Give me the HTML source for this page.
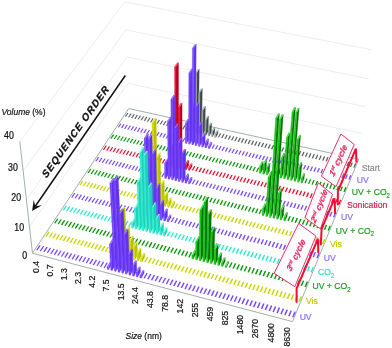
<!DOCTYPE html>
<html><head><meta charset="utf-8"><style>
html,body{margin:0;padding:0;background:#fff;width:392px;height:348px;overflow:hidden}
body{position:relative;font-family:"Liberation Sans",sans-serif}
</style></head><body>
<svg width="392" height="348" viewBox="0 0 392 348" style="position:absolute;left:0;top:0;will-change:transform">
<rect width="392" height="348" fill="#fff"/>
<path d="M29.5,226.94L127.87,83.24M26.4,199.6L126.92,57.04M23.18,171.12L125.94,29.91M19.82,141.43L124.92,1.79M127.87,83.24L361.89,133.43M126.92,57.04L365.25,106.62M125.94,29.91L368.73,78.78M124.92,1.79L372.34,49.88" stroke="#e3ebe9" stroke-width="0.8" fill="none"/>
<path d="M19.82,141.43L32.47,253.22L292.56,321.63L358.66,159.28L128.79,108.54L32.47,253.22" stroke="#97a6a4" stroke-width="0.9" fill="none" stroke-linejoin="round"/>
<g shape-rendering="auto"><polygon points="124.86,116.53 126.06,116.79 128.59,112.96 127.41,112.7" fill="#5a6464"/><polygon points="128,117.22 129.19,117.49 131.72,113.65 130.53,113.39" fill="#5a6464"/><polygon points="131.14,117.92 132.33,118.19 134.85,114.35 133.66,114.08" fill="#5a6464"/><polygon points="134.28,118.63 135.48,118.89 137.99,115.04 136.79,114.78" fill="#5a6464"/><polygon points="137.43,119.33 138.63,119.59 141.13,115.74 139.93,115.48" fill="#5a6464"/><polygon points="140.59,120.03 141.79,120.3 144.27,116.44 143.08,116.17" fill="#5a6464"/><polygon points="143.75,120.74 144.95,121 147.42,117.14 146.23,116.87" fill="#5a6464"/><polygon points="146.91,121.44 148.11,121.71 150.58,117.84 149.38,117.57" fill="#5a6464"/><polygon points="150.08,122.15 151.28,122.42 153.74,118.54 152.54,118.27" fill="#5a6464"/><polygon points="153.25,122.85 154.46,123.12 156.91,119.24 155.7,118.97" fill="#5a6464"/><polygon points="156.43,123.56 157.64,123.83 160.08,119.94 158.87,119.68" fill="#5a6464"/><polygon points="159.62,124.27 160.83,124.54 163.25,120.65 162.04,120.38" fill="#5a6464"/><polygon points="162.81,124.98 164.02,125.25 166.43,121.35 165.22,121.09" fill="#5a6464"/><polygon points="166,125.7 167.22,125.97 169.62,122.06 168.41,121.79" fill="#5a6464"/><polygon points="169.2,126.41 170.42,126.68 172.81,122.77 171.59,122.5" fill="#5a6464"/><polygon points="172.4,127.12 173.62,127.4 176,123.48 174.79,123.21" fill="#5a6464"/><polygon points="175.61,127.84 176.83,128.11 179.2,124.19 177.99,123.92" fill="#5a6464"/><polygon points="178.83,128.56 180.05,128.83 182.41,124.9 181.19,124.63" fill="#5a6464"/><polygon points="182.05,129.27 183.27,129.55 185.62,125.61 184.4,125.34" fill="#5a6464"/><polygon points="185.27,129.99 186.5,130.27 188.83,126.32 187.61,126.05" fill="#5a6464"/><polygon points="188.5,130.71 189.73,130.99 192.06,127.04 190.83,126.77" fill="#5a6464"/><polygon points="192.96,132.34 195.28,128.38 195.51,102.86 193.16,106.78" fill="#3e4848" stroke="#3e4848" stroke-width="0.3"/><polygon points="191.73,132.06 192.96,132.34 193.16,106.78 191.91,106.51" fill="#98a2a2" stroke="#98a2a2" stroke-width="0.3"/><polygon points="191.91,106.51 193.16,106.78 195.51,102.86 194.26,102.59" fill="#b0b8b8"/><polygon points="196.2,133.06 198.5,129.1 199.2,69.01 196.8,72.88" fill="#3e4848" stroke="#3e4848" stroke-width="0.3"/><polygon points="194.97,132.78 196.2,133.06 196.8,72.88 195.52,72.61" fill="#98a2a2" stroke="#98a2a2" stroke-width="0.3"/><polygon points="195.52,72.61 196.8,72.88 199.2,69.01 197.92,68.74" fill="#b0b8b8"/><polygon points="199.45,133.78 201.74,129.82 202.31,88.52 199.95,92.43" fill="#3e4848" stroke="#3e4848" stroke-width="0.3"/><polygon points="198.21,133.51 199.45,133.78 199.95,92.43 198.68,92.16" fill="#98a2a2" stroke="#98a2a2" stroke-width="0.3"/><polygon points="198.68,92.16 199.95,92.43 202.31,88.52 201.04,88.25" fill="#b0b8b8"/><polygon points="202.7,134.51 204.98,130.54 205.37,106.29 203.05,110.23" fill="#3e4848" stroke="#3e4848" stroke-width="0.3"/><polygon points="201.46,134.23 202.7,134.51 203.05,110.23 201.79,109.96" fill="#98a2a2" stroke="#98a2a2" stroke-width="0.3"/><polygon points="201.79,109.96 203.05,110.23 205.37,106.29 204.11,106.02" fill="#b0b8b8"/><polygon points="205.95,135.23 208.22,131.26 208.5,116.03 206.21,119.99" fill="#3e4848" stroke="#3e4848" stroke-width="0.3"/><polygon points="204.72,134.96 205.95,135.23 206.21,119.99 204.96,119.72" fill="#98a2a2" stroke="#98a2a2" stroke-width="0.3"/><polygon points="204.96,119.72 206.21,119.99 208.5,116.03 207.26,115.76" fill="#b0b8b8"/><polygon points="209.22,135.96 211.47,131.98 211.66,122.88 209.39,126.85" fill="#3e4848" stroke="#3e4848" stroke-width="0.3"/><polygon points="207.98,135.69 209.22,135.96 209.39,126.85 208.14,126.58" fill="#98a2a2" stroke="#98a2a2" stroke-width="0.3"/><polygon points="208.14,126.58 209.39,126.85 211.66,122.88 210.42,122.61" fill="#b0b8b8"/><polygon points="212.48,136.69 214.73,132.7 214.84,127.66 212.59,131.64" fill="#3e4848" stroke="#3e4848" stroke-width="0.3"/><polygon points="211.24,136.41 212.48,136.69 212.59,131.64 211.34,131.37" fill="#98a2a2" stroke="#98a2a2" stroke-width="0.3"/><polygon points="211.34,131.37 212.59,131.64 214.84,127.66 213.6,127.38" fill="#b0b8b8"/><polygon points="215.75,137.42 217.99,133.42 218.06,130.4 215.83,134.4" fill="#3e4848" stroke="#3e4848" stroke-width="0.3"/><polygon points="214.51,137.14 215.75,137.42 215.83,134.4 214.58,134.12" fill="#98a2a2" stroke="#98a2a2" stroke-width="0.3"/><polygon points="214.58,134.12 215.83,134.4 218.06,130.4 216.82,130.13" fill="#b0b8b8"/><polygon points="217.8,137.24 219.05,137.52 221.27,133.52 220.03,133.25" fill="#5a6464"/><polygon points="221.08,137.98 222.33,138.25 224.54,134.25 223.3,133.97" fill="#5a6464"/><polygon points="224.37,138.71 225.62,138.99 227.82,134.97 226.58,134.7" fill="#5a6464"/><polygon points="227.66,139.44 228.91,139.72 231.1,135.7 229.86,135.42" fill="#5a6464"/><polygon points="230.96,140.18 232.21,140.46 234.39,136.43 233.14,136.15" fill="#5a6464"/><polygon points="234.26,140.91 235.52,141.19 237.68,137.16 236.43,136.88" fill="#5a6464"/><polygon points="237.57,141.65 238.83,141.93 240.98,137.89 239.73,137.62" fill="#5a6464"/><polygon points="240.88,142.39 242.14,142.67 244.29,138.63 243.03,138.35" fill="#5a6464"/><polygon points="244.2,143.13 245.46,143.41 247.6,139.36 246.34,139.08" fill="#5a6464"/><polygon points="247.52,143.87 248.79,144.15 250.91,140.1 249.65,139.82" fill="#5a6464"/><polygon points="250.85,144.61 252.12,144.9 254.23,140.83 252.97,140.55" fill="#5a6464"/><polygon points="254.19,145.36 255.46,145.64 257.55,141.57 256.29,141.29" fill="#5a6464"/><polygon points="257.53,146.1 258.8,146.38 260.88,142.31 259.62,142.03" fill="#5a6464"/><polygon points="260.87,146.85 262.15,147.13 264.22,143.05 262.95,142.77" fill="#5a6464"/><polygon points="264.22,147.59 265.5,147.88 267.56,143.79 266.29,143.51" fill="#5a6464"/><polygon points="267.58,148.34 268.86,148.63 270.91,144.53 269.63,144.25" fill="#5a6464"/><polygon points="270.94,149.09 272.22,149.38 274.26,145.28 272.98,144.99" fill="#5a6464"/><polygon points="274.31,149.84 275.59,150.13 277.62,146.02 276.34,145.74" fill="#5a6464"/><polygon points="277.68,150.59 278.96,150.88 280.98,146.77 279.7,146.48" fill="#5a6464"/><polygon points="281.06,151.35 282.34,151.63 284.35,147.51 283.07,147.23" fill="#5a6464"/><polygon points="284.44,152.1 285.73,152.39 287.72,148.26 286.44,147.98" fill="#5a6464"/><polygon points="287.83,152.86 289.12,153.14 291.1,149.01 289.81,148.73" fill="#5a6464"/><polygon points="291.23,153.61 292.52,153.9 294.48,149.76 293.2,149.48" fill="#5a6464"/><polygon points="294.63,154.37 295.92,154.66 297.87,150.51 296.58,150.23" fill="#5a6464"/><polygon points="298.03,155.13 299.33,155.42 301.27,151.27 299.98,150.98" fill="#5a6464"/><polygon points="301.44,155.89 302.74,156.18 304.67,152.02 303.38,151.73" fill="#5a6464"/><polygon points="304.86,156.65 306.16,156.94 308.07,152.78 306.78,152.49" fill="#5a6464"/><polygon points="308.28,157.42 309.58,157.71 311.49,153.53 310.19,153.25" fill="#5a6464"/><polygon points="311.71,158.18 313.01,158.47 314.9,154.29 313.6,154" fill="#5a6464"/><polygon points="315.14,158.95 316.45,159.24 318.33,155.05 317.03,154.76" fill="#5a6464"/><polygon points="318.58,159.71 319.89,160 321.76,155.81 320.45,155.52" fill="#5a6464"/><polygon points="322.03,160.48 323.34,160.77 325.19,156.57 323.88,156.28" fill="#5a6464"/><polygon points="325.48,161.25 326.79,161.54 328.63,157.34 327.32,157.05" fill="#5a6464"/><polygon points="328.93,162.02 330.25,162.31 332.07,158.1 330.76,157.81" fill="#5a6464"/><polygon points="332.39,162.79 333.71,163.09 335.53,158.87 334.21,158.58" fill="#5a6464"/><polygon points="335.86,163.56 337.18,163.86 338.98,159.63 337.67,159.34" fill="#5a6464"/><polygon points="339.33,164.34 340.66,164.63 342.44,160.4 341.13,160.11" fill="#5a6464"/><polygon points="342.81,165.11 344.14,165.41 345.91,161.17 344.59,160.88" fill="#5a6464"/><polygon points="346.3,165.89 347.62,166.19 349.39,161.94 348.07,161.65" fill="#5a6464"/><polygon points="349.79,166.67 351.12,166.97 352.87,162.71 351.54,162.42" fill="#5a6464"/><polygon points="353.28,167.45 354.61,167.75 356.35,163.49 355.03,163.19" fill="#5a6464"/><polygon points="117.69,127.32 118.9,127.59 121.49,123.68 120.29,123.41" fill="#7a4cfa"/><polygon points="120.86,128.03 122.06,128.31 124.65,124.39 123.45,124.12" fill="#7a4cfa"/><polygon points="124.03,128.75 125.23,129.02 127.81,125.1 126.61,124.83" fill="#7a4cfa"/><polygon points="127.2,129.47 128.41,129.74 130.97,125.81 129.77,125.54" fill="#7a4cfa"/><polygon points="130.38,130.19 131.59,130.46 134.14,126.52 132.94,126.25" fill="#7a4cfa"/><polygon points="133.56,130.91 134.77,131.18 137.32,127.23 136.11,126.96" fill="#7a4cfa"/><polygon points="136.75,131.63 137.96,131.9 140.5,127.95 139.29,127.68" fill="#7a4cfa"/><polygon points="139.95,132.35 141.16,132.62 143.68,128.67 142.47,128.39" fill="#7a4cfa"/><polygon points="143.14,133.07 144.36,133.35 146.87,129.38 145.66,129.11" fill="#7a4cfa"/><polygon points="146.35,133.8 147.57,134.07 150.07,130.1 148.85,129.83" fill="#7a4cfa"/><polygon points="149.56,134.52 150.78,134.8 153.27,130.82 152.05,130.55" fill="#7a4cfa"/><polygon points="152.77,135.25 153.99,135.52 156.47,131.54 155.25,131.27" fill="#7a4cfa"/><polygon points="155.99,135.98 157.22,136.25 159.68,132.26 158.46,131.99" fill="#7a4cfa"/><polygon points="159.21,136.7 160.44,136.98 162.9,132.99 161.67,132.71" fill="#7a4cfa"/><polygon points="162.44,137.43 163.67,137.71 166.12,133.71 164.89,133.44" fill="#7a4cfa"/><polygon points="165.68,138.17 166.91,138.44 169.34,134.44 168.12,134.16" fill="#7a4cfa"/><polygon points="168.92,138.9 170.15,139.18 172.57,135.16 171.35,134.89" fill="#7a4cfa"/><polygon points="172.16,139.63 173.4,139.91 175.81,135.89 174.58,135.62" fill="#7a4cfa"/><polygon points="175.41,140.37 176.65,140.65 179.05,136.62 177.82,136.34" fill="#7a4cfa"/><polygon points="178.67,141.1 179.91,141.38 182.3,137.35 181.06,137.07" fill="#7a4cfa"/><polygon points="181.93,141.84 183.17,142.12 185.55,138.08 184.31,137.8" fill="#7a4cfa"/><polygon points="186.44,143.49 188.8,139.44 188.9,119.03 186.5,123.04" fill="#6232ee" stroke="#6232ee" stroke-width="0.3"/><polygon points="185.19,143.21 186.44,143.49 186.5,123.04 185.24,122.77" fill="#7444ff" stroke="#7444ff" stroke-width="0.3"/><polygon points="185.24,122.77 186.5,123.04 188.9,119.03 187.65,118.75" fill="#9070ff"/><polygon points="189.71,144.23 192.06,140.18 192.57,68.84 190.1,72.78" fill="#6232ee" stroke="#6232ee" stroke-width="0.3"/><polygon points="188.46,143.95 189.71,144.23 190.1,72.78 188.79,72.51" fill="#7444ff" stroke="#7444ff" stroke-width="0.3"/><polygon points="188.79,72.51 190.1,72.78 192.57,68.84 191.27,68.57" fill="#9070ff"/><polygon points="192.99,144.97 195.33,140.91 196.24,44.15 193.74,48.06" fill="#6232ee" stroke="#6232ee" stroke-width="0.3"/><polygon points="191.74,144.69 192.99,144.97 193.74,48.06 192.41,47.8" fill="#7444ff" stroke="#7444ff" stroke-width="0.3"/><polygon points="192.41,47.8 193.74,48.06 196.24,44.15 194.91,43.89" fill="#9070ff"/><polygon points="196.27,145.71 198.6,141.65 199.05,102.85 196.66,106.86" fill="#6232ee" stroke="#6232ee" stroke-width="0.3"/><polygon points="195.02,145.43 196.27,145.71 196.66,106.86 195.38,106.58" fill="#7444ff" stroke="#7444ff" stroke-width="0.3"/><polygon points="195.38,106.58 196.66,106.86 199.05,102.85 197.78,102.57" fill="#9070ff"/><polygon points="199.56,146.45 201.88,142.39 202.16,121.95 199.81,125.99" fill="#6232ee" stroke="#6232ee" stroke-width="0.3"/><polygon points="198.31,146.17 199.56,146.45 199.81,125.99 198.54,125.71" fill="#7444ff" stroke="#7444ff" stroke-width="0.3"/><polygon points="198.54,125.71 199.81,125.99 202.16,121.95 200.9,121.67" fill="#9070ff"/><polygon points="202.85,147.2 205.16,143.12 205.32,132.97 203,137.04" fill="#6232ee" stroke="#6232ee" stroke-width="0.3"/><polygon points="201.6,146.92 202.85,147.2 203,137.04 201.74,136.75" fill="#7444ff" stroke="#7444ff" stroke-width="0.3"/><polygon points="201.74,136.75 203,137.04 205.32,132.97 204.07,132.69" fill="#9070ff"/><polygon points="206.15,147.95 208.44,143.86 208.54,138.81 206.23,142.88" fill="#6232ee" stroke="#6232ee" stroke-width="0.3"/><polygon points="204.89,147.66 206.15,147.95 206.23,142.88 204.97,142.6" fill="#7444ff" stroke="#7444ff" stroke-width="0.3"/><polygon points="204.97,142.6 206.23,142.88 208.54,138.81 207.28,138.52" fill="#9070ff"/><polygon points="209.45,148.69 211.74,144.61 211.79,142.08 209.5,146.16" fill="#6232ee" stroke="#6232ee" stroke-width="0.3"/><polygon points="208.19,148.41 209.45,148.69 209.5,146.16 208.24,145.88" fill="#7444ff" stroke="#7444ff" stroke-width="0.3"/><polygon points="208.24,145.88 209.5,146.16 211.79,142.08 210.53,141.8" fill="#9070ff"/><polygon points="211.51,148.53 212.77,148.81 215.05,144.72 213.79,144.43" fill="#7a4cfa"/><polygon points="214.83,149.27 216.09,149.56 218.35,145.46 217.1,145.18" fill="#7a4cfa"/><polygon points="218.15,150.02 219.41,150.31 221.66,146.2 220.4,145.92" fill="#7a4cfa"/><polygon points="221.47,150.78 222.73,151.06 224.98,146.95 223.71,146.67" fill="#7a4cfa"/><polygon points="224.8,151.53 226.07,151.81 228.3,147.7 227.03,147.41" fill="#7a4cfa"/><polygon points="228.14,152.28 229.4,152.57 231.62,148.44 230.36,148.16" fill="#7a4cfa"/><polygon points="231.48,153.04 232.75,153.32 234.95,149.19 233.68,148.91" fill="#7a4cfa"/><polygon points="234.82,153.79 236.09,154.08 238.29,149.94 237.02,149.66" fill="#7a4cfa"/><polygon points="238.17,154.55 239.45,154.84 241.63,150.7 240.36,150.41" fill="#7a4cfa"/><polygon points="241.53,155.31 242.81,155.6 244.98,151.45 243.7,151.16" fill="#7a4cfa"/><polygon points="244.89,156.07 246.17,156.36 248.33,152.2 247.05,151.92" fill="#7a4cfa"/><polygon points="248.26,156.83 249.54,157.12 251.69,152.96 250.41,152.67" fill="#7a4cfa"/><polygon points="251.63,157.59 252.92,157.88 255.05,153.71 253.77,153.43" fill="#7a4cfa"/><polygon points="255.01,158.36 256.3,158.65 258.42,154.47 257.14,154.18" fill="#7a4cfa"/><polygon points="258.4,159.12 259.68,159.41 261.79,155.23 260.51,154.94" fill="#7a4cfa"/><polygon points="261.79,159.89 263.08,160.18 265.17,155.99 263.89,155.7" fill="#7a4cfa"/><polygon points="265.18,160.66 266.47,160.95 268.56,156.75 267.27,156.46" fill="#7a4cfa"/><polygon points="268.58,161.42 269.88,161.72 271.95,157.51 270.66,157.22" fill="#7a4cfa"/><polygon points="271.99,162.19 273.28,162.49 275.34,158.28 274.05,157.99" fill="#7a4cfa"/><polygon points="275.4,162.97 276.7,163.26 278.75,159.04 277.45,158.75" fill="#7a4cfa"/><polygon points="278.82,163.74 280.12,164.03 282.15,159.81 280.86,159.52" fill="#7a4cfa"/><polygon points="282.24,164.51 283.54,164.81 285.57,160.58 284.27,160.29" fill="#7a4cfa"/><polygon points="285.67,165.29 286.98,165.58 288.99,161.35 287.69,161.05" fill="#7a4cfa"/><polygon points="289.11,166.06 290.41,166.36 292.41,162.12 291.11,161.82" fill="#7a4cfa"/><polygon points="292.55,166.84 293.85,167.14 295.84,162.89 294.54,162.59" fill="#7a4cfa"/><polygon points="295.99,167.62 297.3,167.92 299.27,163.66 297.97,163.37" fill="#7a4cfa"/><polygon points="299.44,168.4 300.76,168.7 302.72,164.43 301.41,164.14" fill="#7a4cfa"/><polygon points="302.9,169.18 304.22,169.48 306.16,165.21 304.85,164.91" fill="#7a4cfa"/><polygon points="306.36,169.96 307.68,170.26 309.61,165.99 308.3,165.69" fill="#7a4cfa"/><polygon points="309.83,170.75 311.15,171.05 313.07,166.76 311.76,166.47" fill="#7a4cfa"/><polygon points="313.31,171.53 314.63,171.83 316.54,167.54 315.22,167.25" fill="#7a4cfa"/><polygon points="316.79,172.32 318.11,172.62 320.01,168.32 318.69,168.03" fill="#7a4cfa"/><polygon points="320.27,173.11 321.6,173.41 323.48,169.1 322.16,168.81" fill="#7a4cfa"/><polygon points="323.76,173.9 325.09,174.2 326.96,169.89 325.64,169.59" fill="#7a4cfa"/><polygon points="327.26,174.69 328.59,174.99 330.45,170.67 329.12,170.37" fill="#7a4cfa"/><polygon points="330.77,175.48 332.1,175.78 333.94,171.46 332.61,171.16" fill="#7a4cfa"/><polygon points="334.27,176.27 335.61,176.57 337.44,172.24 336.11,171.94" fill="#7a4cfa"/><polygon points="337.79,177.07 339.13,177.37 340.94,173.03 339.61,172.73" fill="#7a4cfa"/><polygon points="341.31,177.86 342.65,178.17 344.45,173.82 343.12,173.52" fill="#7a4cfa"/><polygon points="344.84,178.66 346.18,178.96 347.97,174.61 346.63,174.31" fill="#7a4cfa"/><polygon points="348.37,179.46 349.71,179.76 351.49,175.4 350.15,175.1" fill="#7a4cfa"/><polygon points="110.36,138.35 111.58,138.63 114.23,134.63 113.02,134.35" fill="#0c960c"/><polygon points="113.56,139.09 114.77,139.36 117.42,135.35 116.2,135.08" fill="#0c960c"/><polygon points="116.76,139.82 117.97,140.1 120.6,136.08 119.39,135.81" fill="#0c960c"/><polygon points="119.96,140.55 121.18,140.83 123.8,136.81 122.58,136.53" fill="#0c960c"/><polygon points="123.17,141.29 124.39,141.57 127,137.54 125.78,137.26" fill="#0c960c"/><polygon points="126.38,142.02 127.6,142.31 130.2,138.27 128.98,137.99" fill="#0c960c"/><polygon points="129.6,142.76 130.82,143.04 133.41,139 132.19,138.73" fill="#0c960c"/><polygon points="132.82,143.5 134.05,143.78 136.63,139.74 135.41,139.46" fill="#0c960c"/><polygon points="136.05,144.24 137.28,144.52 139.85,140.47 138.62,140.19" fill="#0c960c"/><polygon points="139.29,144.98 140.52,145.27 143.07,141.21 141.85,140.93" fill="#0c960c"/><polygon points="142.53,145.73 143.76,146.01 146.3,141.94 145.08,141.66" fill="#0c960c"/><polygon points="145.77,146.47 147.01,146.75 149.54,142.68 148.31,142.4" fill="#0c960c"/><polygon points="149.02,147.21 150.26,147.5 152.78,143.42 151.55,143.14" fill="#0c960c"/><polygon points="152.28,147.96 153.51,148.24 156.03,144.16 154.79,143.88" fill="#0c960c"/><polygon points="155.54,148.71 156.78,148.99 159.28,144.9 158.04,144.62" fill="#0c960c"/><polygon points="158.8,149.46 160.04,149.74 162.53,145.64 161.3,145.36" fill="#0c960c"/><polygon points="162.07,150.21 163.32,150.49 165.8,146.39 164.56,146.11" fill="#0c960c"/><polygon points="165.35,150.96 166.6,151.24 169.06,147.13 167.82,146.85" fill="#0c960c"/><polygon points="168.63,151.71 169.88,151.99 172.33,147.88 171.09,147.6" fill="#0c960c"/><polygon points="171.92,152.46 173.17,152.75 175.61,148.63 174.37,148.34" fill="#0c960c"/><polygon points="175.21,153.22 176.46,153.5 178.9,149.38 177.65,149.09" fill="#0c960c"/><polygon points="178.51,153.97 179.76,154.26 182.18,150.13 180.93,149.84" fill="#0c960c"/><polygon points="181.81,154.73 183.07,155.02 185.48,150.88 184.22,150.59" fill="#0c960c"/><polygon points="185.12,155.49 186.38,155.78 188.78,151.63 187.52,151.34" fill="#0c960c"/><polygon points="188.43,156.25 189.69,156.54 192.08,152.38 190.82,152.1" fill="#0c960c"/><polygon points="191.75,157.01 193.01,157.3 195.39,153.14 194.13,152.85" fill="#0c960c"/><polygon points="195.08,157.77 196.34,158.06 198.7,153.89 197.44,153.61" fill="#0c960c"/><polygon points="198.41,158.53 199.67,158.82 202.02,154.65 200.76,154.36" fill="#0c960c"/><polygon points="201.74,159.3 203.01,159.59 205.35,155.41 204.09,155.12" fill="#0c960c"/><polygon points="205.08,160.06 206.35,160.35 208.68,156.17 207.41,155.88" fill="#0c960c"/><polygon points="208.43,160.83 209.7,161.12 212.02,156.93 210.75,156.64" fill="#0c960c"/><polygon points="211.78,161.6 213.06,161.89 215.36,157.69 214.09,157.4" fill="#0c960c"/><polygon points="215.14,162.37 216.41,162.66 218.71,158.45 217.43,158.16" fill="#0c960c"/><polygon points="218.5,163.14 219.78,163.43 222.06,159.22 220.78,158.93" fill="#0c960c"/><polygon points="221.87,163.91 223.15,164.2 225.42,159.99 224.14,159.69" fill="#0c960c"/><polygon points="225.24,164.68 226.53,164.98 228.78,160.75 227.5,160.46" fill="#0c960c"/><polygon points="228.62,165.46 229.91,165.75 232.15,161.52 230.87,161.23" fill="#0c960c"/><polygon points="232.01,166.23 233.29,166.53 235.53,162.29 234.24,162" fill="#0c960c"/><polygon points="235.4,167.01 236.69,167.31 238.91,163.06 237.62,162.77" fill="#0c960c"/><polygon points="238.79,167.79 240.08,168.09 242.29,163.83 241,163.54" fill="#0c960c"/><polygon points="242.19,168.57 243.49,168.87 245.68,164.61 244.39,164.31" fill="#0c960c"/><polygon points="245.6,169.35 246.9,169.65 249.08,165.38 247.79,165.09" fill="#0c960c"/><polygon points="249.01,170.13 250.31,170.43 252.48,166.16 251.19,165.86" fill="#0c960c"/><polygon points="252.43,170.92 253.73,171.21 255.89,166.93 254.6,166.64" fill="#0c960c"/><polygon points="255.86,171.7 257.16,172 259.31,167.71 258.01,167.42" fill="#0c960c"/><polygon points="260.56,173.42 262.69,169.13 263.13,161.46 260.99,165.75" fill="#067006" stroke="#067006" stroke-width="0.3"/><polygon points="259.25,173.12 260.56,173.42 260.99,165.75 259.68,165.45" fill="#10c810" stroke="#10c810" stroke-width="0.3"/><polygon points="259.68,165.45 260.99,165.75 263.13,161.46 261.82,161.17" fill="#50de50"/><polygon points="263.99,174.21 266.11,169.91 266.73,159.67 264.59,163.96" fill="#067006" stroke="#067006" stroke-width="0.3"/><polygon points="262.69,173.91 263.99,174.21 264.59,163.96 263.28,163.66" fill="#10c810" stroke="#10c810" stroke-width="0.3"/><polygon points="263.28,163.66 264.59,163.96 266.73,159.67 265.42,159.37" fill="#50de50"/><polygon points="267.43,175 269.54,170.69 270.02,163.02 267.9,167.32" fill="#067006" stroke="#067006" stroke-width="0.3"/><polygon points="266.13,174.7 267.43,175 267.9,167.32 266.59,167.02" fill="#10c810" stroke="#10c810" stroke-width="0.3"/><polygon points="266.59,167.02 267.9,167.32 270.02,163.02 268.71,162.73" fill="#50de50"/><polygon points="269.61,174.85 270.92,175.15 273.02,170.84 271.71,170.54" fill="#0c960c"/><polygon points="273.06,175.64 274.38,175.95 276.46,171.62 275.15,171.33" fill="#0c960c"/><polygon points="277.79,177.38 279.86,173.05 280.22,167.94 278.14,172.26" fill="#067006" stroke="#067006" stroke-width="0.3"/><polygon points="276.48,177.07 277.79,177.38 278.14,172.26 276.82,171.96" fill="#10c810" stroke="#10c810" stroke-width="0.3"/><polygon points="276.82,171.96 278.14,172.26 280.22,167.94 278.9,167.64" fill="#50de50"/><polygon points="281.26,178.17 283.31,173.84 284.81,153.17 282.73,157.48" fill="#067006" stroke="#067006" stroke-width="0.3"/><polygon points="279.94,177.87 281.26,178.17 282.73,157.48 281.39,157.18" fill="#10c810" stroke="#10c810" stroke-width="0.3"/><polygon points="281.39,157.18 282.73,157.48 284.81,153.17 283.48,152.87" fill="#50de50"/><polygon points="284.73,178.97 286.77,174.62 289.92,132.67 287.83,136.96" fill="#067006" stroke="#067006" stroke-width="0.3"/><polygon points="283.41,178.66 284.73,178.97 287.83,136.96 286.47,136.66" fill="#10c810" stroke="#10c810" stroke-width="0.3"/><polygon points="286.47,136.66 287.83,136.96 289.92,132.67 288.56,132.37" fill="#50de50"/><polygon points="288.2,179.76 290.24,175.41 295.52,107.31 293.41,111.57" fill="#067006" stroke="#067006" stroke-width="0.3"/><polygon points="286.88,179.46 288.2,179.76 293.41,111.57 292.02,111.28" fill="#10c810" stroke="#10c810" stroke-width="0.3"/><polygon points="292.02,111.28 293.41,111.57 295.52,107.31 294.13,107.02" fill="#50de50"/><polygon points="291.69,180.56 293.7,176.21 299.16,108.08 297.07,112.35" fill="#067006" stroke="#067006" stroke-width="0.3"/><polygon points="290.36,180.26 291.69,180.56 297.07,112.35 295.68,112.05" fill="#10c810" stroke="#10c810" stroke-width="0.3"/><polygon points="295.68,112.05 297.07,112.35 299.16,108.08 297.77,107.79" fill="#50de50"/><polygon points="295.17,181.36 297.18,177 300.65,135 298.6,139.32" fill="#067006" stroke="#067006" stroke-width="0.3"/><polygon points="293.85,181.06 295.17,181.36 298.6,139.32 297.23,139.02" fill="#10c810" stroke="#10c810" stroke-width="0.3"/><polygon points="297.23,139.02 298.6,139.32 300.65,135 299.29,134.71" fill="#50de50"/><polygon points="298.67,182.16 300.66,177.79 301.98,162.33 299.97,166.68" fill="#067006" stroke="#067006" stroke-width="0.3"/><polygon points="297.34,181.86 298.67,182.16 299.97,166.68 298.62,166.38" fill="#10c810" stroke="#10c810" stroke-width="0.3"/><polygon points="298.62,166.38 299.97,166.68 301.98,162.33 300.64,162.03" fill="#50de50"/><polygon points="302.17,182.97 304.15,178.59 304.6,173.47 302.61,177.84" fill="#067006" stroke="#067006" stroke-width="0.3"/><polygon points="300.84,182.66 302.17,182.97 302.61,177.84 301.28,177.54" fill="#10c810" stroke="#10c810" stroke-width="0.3"/><polygon points="301.28,177.54 302.61,177.84 304.6,173.47 303.26,173.17" fill="#50de50"/><polygon points="304.4,182.83 305.73,183.13 307.7,178.75 306.37,178.45" fill="#0c960c"/><polygon points="307.91,183.63 309.24,183.94 311.2,179.55 309.87,179.24" fill="#0c960c"/><polygon points="311.42,184.44 312.76,184.74 314.7,180.35 313.37,180.04" fill="#0c960c"/><polygon points="314.95,185.24 316.29,185.55 318.21,181.15 316.88,180.84" fill="#0c960c"/><polygon points="318.47,186.05 319.82,186.36 321.73,181.95 320.39,181.64" fill="#0c960c"/><polygon points="322.01,186.86 323.35,187.17 325.25,182.75 323.91,182.45" fill="#0c960c"/><polygon points="325.55,187.67 326.9,187.98 328.78,183.56 327.44,183.25" fill="#0c960c"/><polygon points="329.1,188.49 330.44,188.8 332.32,184.36 330.97,184.06" fill="#0c960c"/><polygon points="332.65,189.3 334,189.61 335.86,185.17 334.51,184.86" fill="#0c960c"/><polygon points="336.21,190.12 337.56,190.43 339.41,185.98 338.06,185.67" fill="#0c960c"/><polygon points="339.77,190.93 341.13,191.24 342.96,186.79 341.61,186.48" fill="#0c960c"/><polygon points="343.34,191.75 344.7,192.06 346.52,187.6 345.16,187.29" fill="#0c960c"/><polygon points="102.87,149.64 104.09,149.92 106.81,145.83 105.59,145.55" fill="#e81030"/><polygon points="106.09,150.39 107.32,150.67 110.02,146.57 108.8,146.29" fill="#e81030"/><polygon points="109.32,151.14 110.55,151.42 113.24,147.32 112.02,147.03" fill="#e81030"/><polygon points="112.55,151.89 113.78,152.18 116.46,148.06 115.24,147.78" fill="#e81030"/><polygon points="115.79,152.64 117.02,152.93 119.69,148.81 118.47,148.53" fill="#e81030"/><polygon points="119.04,153.4 120.27,153.68 122.93,149.56 121.7,149.27" fill="#e81030"/><polygon points="122.29,154.15 123.52,154.44 126.17,150.31 124.94,150.02" fill="#e81030"/><polygon points="125.54,154.91 126.78,155.2 129.42,151.06 128.18,150.77" fill="#e81030"/><polygon points="128.8,155.67 130.04,155.95 132.67,151.81 131.43,151.52" fill="#e81030"/><polygon points="132.07,156.42 133.31,156.71 135.92,152.56 134.68,152.28" fill="#e81030"/><polygon points="135.34,157.19 136.58,157.47 139.18,153.32 137.94,153.03" fill="#e81030"/><polygon points="138.61,157.95 139.86,158.24 142.45,154.07 141.21,153.78" fill="#e81030"/><polygon points="141.89,158.71 143.14,159 145.72,154.83 144.48,154.54" fill="#e81030"/><polygon points="145.18,159.47 146.43,159.76 149,155.59 147.75,155.3" fill="#e81030"/><polygon points="148.47,160.24 149.72,160.53 152.28,156.35 151.03,156.06" fill="#e81030"/><polygon points="151.77,161.01 153.02,161.3 155.57,157.11 154.32,156.82" fill="#e81030"/><polygon points="155.07,161.77 156.33,162.06 158.86,157.87 157.61,157.58" fill="#e81030"/><polygon points="158.38,162.54 159.64,162.83 162.16,158.63 160.91,158.34" fill="#e81030"/><polygon points="161.69,163.31 162.95,163.61 165.47,159.39 164.21,159.1" fill="#e81030"/><polygon points="165.01,164.08 166.27,164.38 168.77,160.16 167.52,159.87" fill="#e81030"/><polygon points="168.34,164.86 169.6,165.15 172.09,160.93 170.83,160.64" fill="#e81030"/><polygon points="172.94,166.56 175.41,162.33 175.32,141.77 172.81,145.98" fill="#b80020" stroke="#b80020" stroke-width="0.3"/><polygon points="171.67,166.26 172.94,166.56 172.81,145.98 171.52,145.69" fill="#e8102e" stroke="#e8102e" stroke-width="0.3"/><polygon points="171.52,145.69 172.81,145.98 175.32,141.77 174.04,141.48" fill="#f04858"/><polygon points="176.27,167.34 178.74,163.1 178.51,62.68 175.87,66.78" fill="#b80020" stroke="#b80020" stroke-width="0.3"/><polygon points="175,167.04 176.27,167.34 175.87,66.78 174.51,66.5" fill="#e8102e" stroke="#e8102e" stroke-width="0.3"/><polygon points="174.51,66.5 175.87,66.78 178.51,62.68 177.16,62.4" fill="#f04858"/><polygon points="179.61,168.11 182.07,163.87 182.08,103.07 179.52,107.23" fill="#b80020" stroke="#b80020" stroke-width="0.3"/><polygon points="178.34,167.82 179.61,168.11 179.52,107.23 178.19,106.95" fill="#e8102e" stroke="#e8102e" stroke-width="0.3"/><polygon points="178.19,106.95 179.52,107.23 182.08,103.07 180.75,102.78" fill="#f04858"/><polygon points="182.96,168.89 185.4,164.64 185.44,149.27 182.97,153.5" fill="#b80020" stroke="#b80020" stroke-width="0.3"/><polygon points="181.69,168.59 182.96,168.89 182.97,153.5 181.69,153.2" fill="#e8102e" stroke="#e8102e" stroke-width="0.3"/><polygon points="181.69,153.2 182.97,153.5 185.44,149.27 184.16,148.97" fill="#f04858"/><polygon points="186.31,169.67 188.74,165.41 188.77,160.32 186.33,164.58" fill="#b80020" stroke="#b80020" stroke-width="0.3"/><polygon points="185.04,169.37 186.31,169.67 186.33,164.58 185.05,164.28" fill="#e8102e" stroke="#e8102e" stroke-width="0.3"/><polygon points="185.05,164.28 186.33,164.58 188.77,160.32 187.49,160.03" fill="#f04858"/><polygon points="189.67,170.45 192.09,166.19 192.11,163.65 189.69,167.91" fill="#b80020" stroke="#b80020" stroke-width="0.3"/><polygon points="188.39,170.15 189.67,170.45 189.69,167.91 188.41,167.61" fill="#e8102e" stroke="#e8102e" stroke-width="0.3"/><polygon points="188.41,167.61 189.69,167.91 192.11,163.65 190.83,163.35" fill="#f04858"/><polygon points="191.76,170.3 193.04,170.6 195.45,166.33 194.17,166.03" fill="#e81030"/><polygon points="195.13,171.08 196.41,171.38 198.8,167.11 197.53,166.81" fill="#e81030"/><polygon points="198.5,171.87 199.79,172.17 202.17,167.88 200.89,167.59" fill="#e81030"/><polygon points="201.88,172.65 203.17,172.95 205.54,168.66 204.26,168.37" fill="#e81030"/><polygon points="205.27,173.44 206.56,173.74 208.91,169.44 207.63,169.15" fill="#e81030"/><polygon points="208.66,174.23 209.95,174.53 212.29,170.23 211.01,169.93" fill="#e81030"/><polygon points="212.05,175.02 213.35,175.32 215.68,171.01 214.39,170.71" fill="#e81030"/><polygon points="215.46,175.81 216.75,176.11 219.07,171.79 217.78,171.49" fill="#e81030"/><polygon points="218.86,176.6 220.16,176.9 222.47,172.58 221.18,172.28" fill="#e81030"/><polygon points="222.28,177.4 223.58,177.7 225.87,173.37 224.58,173.07" fill="#e81030"/><polygon points="225.7,178.19 227,178.49 229.28,174.15 227.98,173.85" fill="#e81030"/><polygon points="229.12,178.99 230.42,179.29 232.7,174.94 231.4,174.64" fill="#e81030"/><polygon points="232.55,179.78 233.86,180.09 236.12,175.73 234.82,175.43" fill="#e81030"/><polygon points="235.99,180.58 237.29,180.89 239.54,176.53 238.24,176.23" fill="#e81030"/><polygon points="239.43,181.38 240.74,181.69 242.97,177.32 241.67,177.02" fill="#e81030"/><polygon points="242.88,182.18 244.19,182.49 246.41,178.12 245.1,177.81" fill="#e81030"/><polygon points="246.33,182.99 247.64,183.29 249.85,178.91 248.54,178.61" fill="#e81030"/><polygon points="249.79,183.79 251.11,184.1 253.3,179.71 251.99,179.41" fill="#e81030"/><polygon points="253.25,184.6 254.57,184.9 256.76,180.51 255.44,180.2" fill="#e81030"/><polygon points="256.73,185.4 258.05,185.71 260.22,181.31 258.9,181" fill="#e81030"/><polygon points="260.2,186.21 261.52,186.52 263.68,182.11 262.36,181.81" fill="#e81030"/><polygon points="263.68,187.02 265.01,187.33 267.15,182.91 265.83,182.61" fill="#e81030"/><polygon points="267.17,187.83 268.5,188.14 270.63,183.72 269.31,183.41" fill="#e81030"/><polygon points="270.67,188.64 272,188.95 274.11,184.52 272.79,184.22" fill="#e81030"/><polygon points="274.17,189.46 275.5,189.77 277.6,185.33 276.28,185.02" fill="#e81030"/><polygon points="277.67,190.27 279.01,190.58 281.1,186.14 279.77,185.83" fill="#e81030"/><polygon points="281.18,191.09 282.52,191.4 284.6,186.95 283.27,186.64" fill="#e81030"/><polygon points="284.7,191.91 286.04,192.22 288.11,187.76 286.77,187.45" fill="#e81030"/><polygon points="288.23,192.73 289.57,193.04 291.62,188.57 290.28,188.26" fill="#e81030"/><polygon points="291.76,193.55 293.1,193.86 295.14,189.39 293.8,189.08" fill="#e81030"/><polygon points="295.29,194.37 296.64,194.68 298.66,190.2 297.32,189.89" fill="#e81030"/><polygon points="298.83,195.19 300.18,195.5 302.19,191.02 300.85,190.71" fill="#e81030"/><polygon points="302.38,196.02 303.73,196.33 305.73,191.83 304.38,191.52" fill="#e81030"/><polygon points="305.93,196.84 307.29,197.16 309.27,192.65 307.93,192.34" fill="#e81030"/><polygon points="309.49,197.67 310.85,197.98 312.82,193.47 311.47,193.16" fill="#e81030"/><polygon points="313.06,198.5 314.42,198.81 316.37,194.3 315.02,193.98" fill="#e81030"/><polygon points="316.63,199.33 317.99,199.64 319.94,195.12 318.58,194.81" fill="#e81030"/><polygon points="320.21,200.16 321.57,200.48 323.5,195.95 322.15,195.63" fill="#e81030"/><polygon points="323.79,200.99 325.16,201.31 327.07,196.77 325.72,196.46" fill="#e81030"/><polygon points="327.38,201.83 328.75,202.15 330.65,197.6 329.29,197.28" fill="#e81030"/><polygon points="330.98,202.66 332.35,202.98 334.24,198.43 332.87,198.11" fill="#e81030"/><polygon points="334.58,203.5 335.95,203.82 337.83,199.26 336.46,198.94" fill="#e81030"/><polygon points="338.19,204.34 339.56,204.66 341.43,200.09 340.06,199.77" fill="#e81030"/><polygon points="95.2,161.18 96.44,161.47 99.21,157.28 97.98,156.99" fill="#7a4cfa"/><polygon points="98.46,161.95 99.69,162.24 102.46,158.04 101.22,157.75" fill="#7a4cfa"/><polygon points="101.71,162.72 102.95,163.01 105.71,158.81 104.47,158.52" fill="#7a4cfa"/><polygon points="104.98,163.49 106.22,163.78 108.96,159.57 107.73,159.28" fill="#7a4cfa"/><polygon points="108.25,164.26 109.49,164.55 112.22,160.34 110.98,160.04" fill="#7a4cfa"/><polygon points="111.52,165.03 112.77,165.32 115.49,161.1 114.25,160.81" fill="#7a4cfa"/><polygon points="114.8,165.8 116.05,166.1 118.76,161.87 117.52,161.58" fill="#7a4cfa"/><polygon points="118.09,166.58 119.34,166.87 122.04,162.64 120.79,162.35" fill="#7a4cfa"/><polygon points="121.38,167.35 122.63,167.65 125.32,163.41 124.07,163.11" fill="#7a4cfa"/><polygon points="124.68,168.13 125.93,168.43 128.61,164.18 127.36,163.89" fill="#7a4cfa"/><polygon points="127.98,168.91 129.24,169.21 131.9,164.95 130.65,164.66" fill="#7a4cfa"/><polygon points="131.29,169.69 132.55,169.99 135.2,165.72 133.94,165.43" fill="#7a4cfa"/><polygon points="134.6,170.47 135.86,170.77 138.5,166.5 137.25,166.21" fill="#7a4cfa"/><polygon points="137.92,171.25 139.18,171.55 141.81,167.28 140.55,166.98" fill="#7a4cfa"/><polygon points="141.24,172.04 142.51,172.33 145.12,168.05 143.86,167.76" fill="#7a4cfa"/><polygon points="144.57,172.82 145.84,173.12 148.44,168.83 147.18,168.54" fill="#7a4cfa"/><polygon points="147.91,173.61 149.18,173.91 151.77,169.61 150.51,169.32" fill="#7a4cfa"/><polygon points="151.25,174.4 152.52,174.7 155.1,170.39 153.83,170.1" fill="#7a4cfa"/><polygon points="154.59,175.18 155.87,175.48 158.44,171.18 157.17,170.88" fill="#7a4cfa"/><polygon points="157.95,175.97 159.22,176.28 161.78,171.96 160.51,171.66" fill="#7a4cfa"/><polygon points="161.3,176.77 162.58,177.07 165.13,172.75 163.85,172.45" fill="#7a4cfa"/><polygon points="165.95,178.5 168.49,174.17 168.34,158.76 165.78,163.07" fill="#6232ee" stroke="#6232ee" stroke-width="0.3"/><polygon points="164.67,178.2 165.95,178.5 165.78,163.07 164.48,162.77" fill="#7444ff" stroke="#7444ff" stroke-width="0.3"/><polygon points="164.48,162.77 165.78,163.07 168.34,158.76 167.05,158.46" fill="#9070ff"/><polygon points="169.32,179.29 171.84,174.96 171.42,116.72 168.8,120.98" fill="#6232ee" stroke="#6232ee" stroke-width="0.3"/><polygon points="168.04,178.99 169.32,179.29 168.8,120.98 167.46,120.69" fill="#7444ff" stroke="#7444ff" stroke-width="0.3"/><polygon points="167.46,120.69 168.8,120.98 171.42,116.72 170.1,116.43" fill="#9070ff"/><polygon points="172.7,180.09 175.2,175.75 174.82,95.09 172.16,99.32" fill="#6232ee" stroke="#6232ee" stroke-width="0.3"/><polygon points="171.41,179.79 172.7,180.09 172.16,99.32 170.81,99.03" fill="#7444ff" stroke="#7444ff" stroke-width="0.3"/><polygon points="170.81,99.03 172.16,99.32 174.82,95.09 173.47,94.8" fill="#9070ff"/><polygon points="176.08,180.89 178.57,176.54 178.45,123.76 175.86,128.05" fill="#6232ee" stroke="#6232ee" stroke-width="0.3"/><polygon points="174.79,180.58 176.08,180.89 175.86,128.05 174.52,127.75" fill="#7444ff" stroke="#7444ff" stroke-width="0.3"/><polygon points="174.52,127.75 175.86,128.05 178.45,123.76 177.12,123.47" fill="#9070ff"/><polygon points="179.46,181.68 181.95,177.33 181.95,138.11 179.39,142.42" fill="#6232ee" stroke="#6232ee" stroke-width="0.3"/><polygon points="178.17,181.38 179.46,181.68 179.39,142.42 178.07,142.12" fill="#7444ff" stroke="#7444ff" stroke-width="0.3"/><polygon points="178.07,142.12 179.39,142.42 181.95,138.11 180.63,137.81" fill="#9070ff"/><polygon points="182.85,182.49 185.33,178.12 185.4,149.56 182.87,153.9" fill="#6232ee" stroke="#6232ee" stroke-width="0.3"/><polygon points="181.56,182.18 182.85,182.49 182.87,153.9 181.56,153.6" fill="#7444ff" stroke="#7444ff" stroke-width="0.3"/><polygon points="181.56,153.6 182.87,153.9 185.4,149.56 184.09,149.27" fill="#9070ff"/><polygon points="186.25,183.29 188.71,178.92 188.74,173.81 186.27,178.17" fill="#6232ee" stroke="#6232ee" stroke-width="0.3"/><polygon points="184.96,182.98 186.25,183.29 186.27,178.17 184.97,177.87" fill="#7444ff" stroke="#7444ff" stroke-width="0.3"/><polygon points="184.97,177.87 186.27,178.17 188.74,173.81 187.44,173.51" fill="#9070ff"/><polygon points="189.65,184.09 192.1,179.71 192.12,177.16 189.67,181.54" fill="#6232ee" stroke="#6232ee" stroke-width="0.3"/><polygon points="188.36,183.78 189.65,184.09 189.67,181.54 188.37,181.23" fill="#7444ff" stroke="#7444ff" stroke-width="0.3"/><polygon points="188.37,181.23 189.67,181.54 192.12,177.16 190.83,176.86" fill="#9070ff"/><polygon points="191.77,183.95 193.07,184.26 195.5,179.87 194.21,179.57" fill="#7a4cfa"/><polygon points="195.18,184.76 196.48,185.06 198.91,180.67 197.61,180.37" fill="#7a4cfa"/><polygon points="198.6,185.56 199.9,185.87 202.32,181.47 201.02,181.17" fill="#7a4cfa"/><polygon points="202.03,186.37 203.33,186.68 205.73,182.27 204.43,181.97" fill="#7a4cfa"/><polygon points="205.46,187.18 206.76,187.49 209.15,183.07 207.85,182.77" fill="#7a4cfa"/><polygon points="208.89,187.99 210.2,188.3 212.58,183.88 211.27,183.57" fill="#7a4cfa"/><polygon points="212.34,188.8 213.65,189.11 216.01,184.68 214.7,184.38" fill="#7a4cfa"/><polygon points="215.78,189.61 217.1,189.92 219.45,185.49 218.14,185.18" fill="#7a4cfa"/><polygon points="219.24,190.43 220.55,190.74 222.89,186.3 221.58,185.99" fill="#7a4cfa"/><polygon points="222.7,191.24 224.01,191.55 226.34,187.11 225.03,186.8" fill="#7a4cfa"/><polygon points="226.16,192.06 227.48,192.37 229.79,187.92 228.48,187.61" fill="#7a4cfa"/><polygon points="229.63,192.88 230.95,193.19 233.25,188.73 231.94,188.42" fill="#7a4cfa"/><polygon points="233.11,193.7 234.43,194.01 236.72,189.54 235.4,189.23" fill="#7a4cfa"/><polygon points="236.59,194.52 237.92,194.83 240.19,190.36 238.87,190.05" fill="#7a4cfa"/><polygon points="240.08,195.34 241.41,195.66 243.67,191.17 242.35,190.86" fill="#7a4cfa"/><polygon points="243.58,196.17 244.91,196.48 247.16,191.99 245.83,191.68" fill="#7a4cfa"/><polygon points="247.08,196.99 248.41,197.31 250.65,192.81 249.32,192.5" fill="#7a4cfa"/><polygon points="250.59,197.82 251.92,198.13 254.14,193.63 252.81,193.32" fill="#7a4cfa"/><polygon points="254.1,198.65 255.43,198.96 257.64,194.45 256.31,194.14" fill="#7a4cfa"/><polygon points="257.62,199.48 258.96,199.79 261.15,195.27 259.82,194.96" fill="#7a4cfa"/><polygon points="261.14,200.31 262.48,200.63 264.67,196.1 263.33,195.78" fill="#7a4cfa"/><polygon points="264.67,201.14 266.02,201.46 268.18,196.92 266.85,196.61" fill="#7a4cfa"/><polygon points="268.21,201.98 269.55,202.29 271.71,197.75 270.37,197.43" fill="#7a4cfa"/><polygon points="271.75,202.81 273.1,203.13 275.24,198.58 273.9,198.26" fill="#7a4cfa"/><polygon points="275.3,203.65 276.65,203.97 278.78,199.41 277.43,199.09" fill="#7a4cfa"/><polygon points="278.85,204.49 280.21,204.8 282.32,200.24 280.98,199.92" fill="#7a4cfa"/><polygon points="282.42,205.33 283.77,205.65 285.87,201.07 284.52,200.76" fill="#7a4cfa"/><polygon points="285.98,206.17 287.34,206.49 289.43,201.91 288.08,201.59" fill="#7a4cfa"/><polygon points="289.56,207.01 290.92,207.33 292.99,202.74 291.64,202.42" fill="#7a4cfa"/><polygon points="293.13,207.85 294.5,208.17 296.56,203.58 295.2,203.26" fill="#7a4cfa"/><polygon points="296.72,208.7 298.08,209.02 300.13,204.42 298.77,204.1" fill="#7a4cfa"/><polygon points="300.31,209.55 301.68,209.87 303.71,205.26 302.35,204.94" fill="#7a4cfa"/><polygon points="303.91,210.39 305.28,210.72 307.3,206.1 305.93,205.78" fill="#7a4cfa"/><polygon points="307.51,211.24 308.88,211.57 310.89,206.94 309.52,206.62" fill="#7a4cfa"/><polygon points="311.12,212.09 312.5,212.42 314.49,207.78 313.12,207.46" fill="#7a4cfa"/><polygon points="314.74,212.95 316.11,213.27 318.09,208.63 316.72,208.31" fill="#7a4cfa"/><polygon points="318.36,213.8 319.74,214.13 321.7,209.48 320.33,209.16" fill="#7a4cfa"/><polygon points="321.99,214.66 323.37,214.98 325.32,210.33 323.95,210" fill="#7a4cfa"/><polygon points="325.63,215.51 327.01,215.84 328.94,211.18 327.57,210.85" fill="#7a4cfa"/><polygon points="329.27,216.37 330.65,216.7 332.57,212.03 331.19,211.7" fill="#7a4cfa"/><polygon points="332.91,217.23 334.3,217.56 336.21,212.88 334.83,212.56" fill="#7a4cfa"/><polygon points="87.36,172.99 88.6,173.29 91.45,169 90.2,168.71" fill="#0c960c"/><polygon points="90.64,173.77 91.89,174.07 94.72,169.78 93.48,169.48" fill="#0c960c"/><polygon points="93.93,174.56 95.18,174.86 98,170.56 96.75,170.27" fill="#0c960c"/><polygon points="97.23,175.35 98.48,175.65 101.29,171.34 100.04,171.05" fill="#0c960c"/><polygon points="100.53,176.14 101.79,176.44 104.58,172.13 103.33,171.83" fill="#0c960c"/><polygon points="103.84,176.93 105.09,177.23 107.88,172.91 106.62,172.61" fill="#0c960c"/><polygon points="107.15,177.72 108.41,178.02 111.18,173.7 109.92,173.4" fill="#0c960c"/><polygon points="110.47,178.52 111.73,178.82 114.49,174.49 113.23,174.19" fill="#0c960c"/><polygon points="113.79,179.31 115.05,179.61 117.8,175.27 116.54,174.97" fill="#0c960c"/><polygon points="117.12,180.11 118.38,180.41 121.12,176.06 119.86,175.76" fill="#0c960c"/><polygon points="120.45,180.91 121.72,181.21 124.45,176.86 123.18,176.55" fill="#0c960c"/><polygon points="123.79,181.7 125.06,182.01 127.78,177.65 126.51,177.35" fill="#0c960c"/><polygon points="127.14,182.51 128.41,182.81 131.11,178.44 129.84,178.14" fill="#0c960c"/><polygon points="130.49,183.31 131.76,183.61 134.45,179.24 133.18,178.94" fill="#0c960c"/><polygon points="133.85,184.11 135.12,184.42 137.8,180.03 136.53,179.73" fill="#0c960c"/><polygon points="137.21,184.91 138.49,185.22 141.15,180.83 139.88,180.53" fill="#0c960c"/><polygon points="140.58,185.72 141.86,186.03 144.51,181.63 143.23,181.33" fill="#0c960c"/><polygon points="143.95,186.53 145.23,186.83 147.87,182.43 146.6,182.13" fill="#0c960c"/><polygon points="147.33,187.34 148.61,187.64 151.24,183.23 149.96,182.93" fill="#0c960c"/><polygon points="150.71,188.15 152,188.45 154.62,184.04 153.34,183.73" fill="#0c960c"/><polygon points="154.1,188.96 155.39,189.27 158,184.84 156.71,184.54" fill="#0c960c"/><polygon points="157.5,189.77 158.79,190.08 161.39,185.65 160.1,185.34" fill="#0c960c"/><polygon points="160.9,190.58 162.2,190.89 164.78,186.45 163.49,186.15" fill="#0c960c"/><polygon points="164.31,191.4 165.61,191.71 168.18,187.26 166.88,186.96" fill="#0c960c"/><polygon points="167.72,192.21 169.02,192.53 171.58,188.07 170.28,187.76" fill="#0c960c"/><polygon points="171.14,193.03 172.44,193.34 174.99,188.88 173.69,188.58" fill="#0c960c"/><polygon points="174.57,193.85 175.87,194.16 178.4,189.7 177.1,189.39" fill="#0c960c"/><polygon points="178,194.67 179.3,194.99 181.82,190.51 180.52,190.2" fill="#0c960c"/><polygon points="181.43,195.5 182.74,195.81 185.25,191.33 183.95,191.02" fill="#0c960c"/><polygon points="184.88,196.32 186.19,196.63 188.68,192.14 187.38,191.83" fill="#0c960c"/><polygon points="188.32,197.14 189.64,197.46 192.12,192.96 190.81,192.65" fill="#0c960c"/><polygon points="191.78,197.97 193.09,198.28 195.56,193.78 194.25,193.47" fill="#0c960c"/><polygon points="195.24,198.8 196.55,199.11 199.01,194.6 197.7,194.29" fill="#0c960c"/><polygon points="198.7,199.63 200.02,199.94 202.47,195.42 201.15,195.11" fill="#0c960c"/><polygon points="202.18,200.46 203.5,200.77 205.93,196.25 204.61,195.93" fill="#0c960c"/><polygon points="205.65,201.29 206.98,201.61 209.39,197.07 208.08,196.76" fill="#0c960c"/><polygon points="209.14,202.12 210.46,202.44 212.87,197.9 211.55,197.59" fill="#0c960c"/><polygon points="212.63,202.96 213.95,203.27 216.35,198.73 215.02,198.41" fill="#0c960c"/><polygon points="216.12,203.79 217.45,204.11 219.83,199.56 218.51,199.24" fill="#0c960c"/><polygon points="219.62,204.63 220.95,204.95 223.32,200.39 221.99,200.07" fill="#0c960c"/><polygon points="223.13,205.47 224.46,205.79 226.82,201.22 225.49,200.9" fill="#0c960c"/><polygon points="226.64,206.31 227.98,206.63 230.32,202.05 228.99,201.74" fill="#0c960c"/><polygon points="230.16,207.15 231.5,207.47 233.83,202.89 232.49,202.57" fill="#0c960c"/><polygon points="233.69,208 235.03,208.32 237.34,203.72 236.01,203.41" fill="#0c960c"/><polygon points="237.22,208.84 238.56,209.16 240.86,204.56 239.53,204.24" fill="#0c960c"/><polygon points="240.76,209.69 242.1,210.01 244.39,205.4 243.05,205.08" fill="#0c960c"/><polygon points="244.3,210.53 245.65,210.86 247.92,206.24 246.58,205.92" fill="#0c960c"/><polygon points="247.85,211.38 249.2,211.71 251.46,207.08 250.12,206.76" fill="#0c960c"/><polygon points="251.4,212.23 252.76,212.56 255.01,207.93 253.66,207.61" fill="#0c960c"/><polygon points="254.97,213.09 256.32,213.41 258.56,208.77 257.21,208.45" fill="#0c960c"/><polygon points="258.53,213.94 259.89,214.27 262.11,209.62 260.76,209.3" fill="#0c960c"/><polygon points="263.43,215.76 265.64,211.11 266.11,203.36 263.89,208.01" fill="#067006" stroke="#067006" stroke-width="0.3"/><polygon points="262.07,215.44 263.43,215.76 263.89,208.01 262.53,207.69" fill="#10c810" stroke="#10c810" stroke-width="0.3"/><polygon points="262.53,207.69 263.89,208.01 266.11,203.36 264.75,203.04" fill="#50de50"/><polygon points="267.01,216.62 269.2,211.96 271.75,172.33 269.5,176.95" fill="#067006" stroke="#067006" stroke-width="0.3"/><polygon points="265.65,216.29 267.01,216.62 269.5,176.95 268.1,176.62" fill="#10c810" stroke="#10c810" stroke-width="0.3"/><polygon points="268.1,176.62 269.5,176.95 271.75,172.33 270.35,172.01" fill="#50de50"/><polygon points="270.6,217.48 272.78,212.81 279.41,113.62 277.1,118.17" fill="#067006" stroke="#067006" stroke-width="0.3"/><polygon points="269.23,217.15 270.6,217.48 277.1,118.17 275.63,117.85" fill="#10c810" stroke="#10c810" stroke-width="0.3"/><polygon points="275.63,117.85 277.1,118.17 279.41,113.62 277.95,113.31" fill="#50de50"/><polygon points="274.19,218.34 276.36,213.66 283.25,114.44 280.96,119" fill="#067006" stroke="#067006" stroke-width="0.3"/><polygon points="272.82,218.01 274.19,218.34 280.96,119 279.49,118.68" fill="#10c810" stroke="#10c810" stroke-width="0.3"/><polygon points="279.49,118.68 280.96,119 283.25,114.44 281.79,114.13" fill="#50de50"/><polygon points="277.79,219.2 279.94,214.52 281.83,188.33 279.65,192.99" fill="#067006" stroke="#067006" stroke-width="0.3"/><polygon points="276.42,218.87 277.79,219.2 279.65,192.99 278.25,192.66" fill="#10c810" stroke="#10c810" stroke-width="0.3"/><polygon points="278.25,192.66 279.65,192.99 281.83,188.33 280.44,188.01" fill="#50de50"/><polygon points="281.39,220.06 283.53,215.37 284.31,205.01 282.16,209.7" fill="#067006" stroke="#067006" stroke-width="0.3"/><polygon points="280.02,219.74 281.39,220.06 282.16,209.7 280.78,209.37" fill="#10c810" stroke="#10c810" stroke-width="0.3"/><polygon points="280.78,209.37 282.16,209.7 284.31,205.01 282.93,204.69" fill="#50de50"/><polygon points="285.01,220.93 287.13,216.23 287.43,212.36 285.3,217.06" fill="#067006" stroke="#067006" stroke-width="0.3"/><polygon points="283.63,220.6 285.01,220.93 285.3,217.06 283.92,216.73" fill="#10c810" stroke="#10c810" stroke-width="0.3"/><polygon points="283.92,216.73 285.3,217.06 287.43,212.36 286.06,212.04" fill="#50de50"/><polygon points="287.3,220.82 288.68,221.15 290.79,216.44 289.42,216.12" fill="#0c960c"/><polygon points="290.92,221.69 292.3,222.02 294.4,217.3 293.03,216.98" fill="#0c960c"/><polygon points="294.55,222.56 295.93,222.89 298.02,218.16 296.64,217.84" fill="#0c960c"/><polygon points="298.19,223.43 299.57,223.76 301.64,219.03 300.26,218.7" fill="#0c960c"/><polygon points="301.83,224.3 303.22,224.63 305.27,219.89 303.89,219.56" fill="#0c960c"/><polygon points="305.48,225.17 306.87,225.5 308.91,220.76 307.53,220.43" fill="#0c960c"/><polygon points="309.14,226.05 310.53,226.38 312.55,221.62 311.17,221.29" fill="#0c960c"/><polygon points="312.8,226.92 314.19,227.26 316.2,222.49 314.82,222.16" fill="#0c960c"/><polygon points="316.47,227.8 317.86,228.13 319.86,223.36 318.47,223.03" fill="#0c960c"/><polygon points="320.14,228.68 321.54,229.01 323.52,224.23 322.13,223.9" fill="#0c960c"/><polygon points="323.82,229.56 325.22,229.9 327.19,225.11 325.8,224.78" fill="#0c960c"/><polygon points="327.51,230.44 328.91,230.78 330.87,225.98 329.47,225.65" fill="#0c960c"/><polygon points="79.33,185.07 80.59,185.38 83.5,180.99 82.24,180.69" fill="#c8d600"/><polygon points="82.65,185.88 83.91,186.18 86.8,181.79 85.55,181.49" fill="#c8d600"/><polygon points="85.97,186.68 87.23,186.99 90.12,182.59 88.86,182.29" fill="#c8d600"/><polygon points="89.3,187.49 90.56,187.8 93.43,183.39 92.17,183.09" fill="#c8d600"/><polygon points="92.63,188.3 93.9,188.61 96.76,184.2 95.49,183.89" fill="#c8d600"/><polygon points="95.97,189.11 97.24,189.42 100.09,185 98.82,184.69" fill="#c8d600"/><polygon points="99.31,189.92 100.59,190.23 103.42,185.81 102.15,185.5" fill="#c8d600"/><polygon points="102.66,190.74 103.94,191.05 106.76,186.61 105.49,186.31" fill="#c8d600"/><polygon points="106.02,191.55 107.3,191.86 110.11,187.42 108.84,187.11" fill="#c8d600"/><polygon points="109.38,192.37 110.66,192.68 113.46,188.23 112.19,187.92" fill="#c8d600"/><polygon points="112.75,193.19 114.03,193.5 116.82,189.04 115.54,188.73" fill="#c8d600"/><polygon points="116.12,194 117.4,194.32 120.18,189.85 118.9,189.54" fill="#c8d600"/><polygon points="119.5,194.82 120.78,195.14 123.55,190.67 122.27,190.36" fill="#c8d600"/><polygon points="122.88,195.65 124.17,195.96 126.92,191.48 125.64,191.17" fill="#c8d600"/><polygon points="126.27,196.47 127.56,196.78 130.3,192.3 129.02,191.99" fill="#c8d600"/><polygon points="129.67,197.29 130.96,197.61 133.69,193.11 132.4,192.8" fill="#c8d600"/><polygon points="133.07,198.12 134.36,198.43 137.08,193.93 135.79,193.62" fill="#c8d600"/><polygon points="136.48,198.95 137.77,199.26 140.48,194.75 139.19,194.44" fill="#c8d600"/><polygon points="139.89,199.78 141.19,200.09 143.88,195.58 142.59,195.26" fill="#c8d600"/><polygon points="143.31,200.61 144.61,200.92 147.29,196.4 145.99,196.09" fill="#c8d600"/><polygon points="146.73,201.44 148.04,201.75 150.7,197.22 149.41,196.91" fill="#c8d600"/><polygon points="151.48,203.23 154.14,198.69 153.82,183.18 151.14,187.71" fill="#b8c000" stroke="#b8c000" stroke-width="0.3"/><polygon points="150.18,202.91 151.48,203.23 151.14,187.71 149.82,187.39" fill="#d4dc00" stroke="#d4dc00" stroke-width="0.3"/><polygon points="149.82,187.39 151.14,187.71 153.82,183.18 152.51,182.87" fill="#e4ec40"/><polygon points="154.92,204.06 157.56,199.52 156.13,118.31 153.32,122.75" fill="#b8c000" stroke="#b8c000" stroke-width="0.3"/><polygon points="153.61,203.74 154.92,204.06 153.32,122.75 151.94,122.45" fill="#d4dc00" stroke="#d4dc00" stroke-width="0.3"/><polygon points="151.94,122.45 153.32,122.75 156.13,118.31 154.75,118" fill="#e4ec40"/><polygon points="158.36,204.9 160.99,200.34 160.27,152.73 157.54,157.23" fill="#b8c000" stroke="#b8c000" stroke-width="0.3"/><polygon points="157.05,204.58 158.36,204.9 157.54,157.23 156.19,156.92" fill="#d4dc00" stroke="#d4dc00" stroke-width="0.3"/><polygon points="156.19,156.92 157.54,157.23 160.27,152.73 158.92,152.42" fill="#e4ec40"/><polygon points="161.81,205.73 164.43,201.17 164.16,180.41 161.51,184.95" fill="#b8c000" stroke="#b8c000" stroke-width="0.3"/><polygon points="160.5,205.42 161.81,205.73 161.51,184.95 160.17,184.63" fill="#d4dc00" stroke="#d4dc00" stroke-width="0.3"/><polygon points="160.17,184.63 161.51,184.95 164.16,180.41 162.84,180.09" fill="#e4ec40"/><polygon points="165.26,206.57 167.87,202.01 167.76,191.7 165.14,196.26" fill="#b8c000" stroke="#b8c000" stroke-width="0.3"/><polygon points="163.95,206.25 165.26,206.57 165.14,196.26 163.82,195.94" fill="#d4dc00" stroke="#d4dc00" stroke-width="0.3"/><polygon points="163.82,195.94 165.14,196.26 167.76,191.7 166.45,191.38" fill="#e4ec40"/><polygon points="168.73,207.41 171.32,202.84 171.28,197.7 168.68,202.27" fill="#b8c000" stroke="#b8c000" stroke-width="0.3"/><polygon points="167.41,207.1 168.73,207.41 168.68,202.27 167.36,201.95" fill="#d4dc00" stroke="#d4dc00" stroke-width="0.3"/><polygon points="167.36,201.95 168.68,202.27 171.28,197.7 169.96,197.39" fill="#e4ec40"/><polygon points="172.19,208.26 174.77,203.67 174.76,201.11 172.17,205.69" fill="#b8c000" stroke="#b8c000" stroke-width="0.3"/><polygon points="170.87,207.94 172.19,208.26 172.17,205.69 170.85,205.37" fill="#d4dc00" stroke="#d4dc00" stroke-width="0.3"/><polygon points="170.85,205.37 172.17,205.69 174.76,201.11 173.44,200.79" fill="#e4ec40"/><polygon points="174.34,208.14 175.66,208.46 178.23,203.87 176.91,203.55" fill="#c8d600"/><polygon points="177.82,208.98 179.14,209.3 181.7,204.71 180.38,204.39" fill="#c8d600"/><polygon points="181.3,209.83 182.63,210.15 185.17,205.55 183.85,205.23" fill="#c8d600"/><polygon points="184.79,210.68 186.12,211 188.65,206.39 187.33,206.07" fill="#c8d600"/><polygon points="188.29,211.52 189.62,211.85 192.13,207.23 190.81,206.91" fill="#c8d600"/><polygon points="191.79,212.37 193.12,212.7 195.62,208.07 194.3,207.75" fill="#c8d600"/><polygon points="195.29,213.23 196.63,213.55 199.12,208.91 197.79,208.59" fill="#c8d600"/><polygon points="198.81,214.08 200.14,214.4 202.62,209.76 201.29,209.44" fill="#c8d600"/><polygon points="202.33,214.93 203.67,215.26 206.13,210.61 204.8,210.29" fill="#c8d600"/><polygon points="205.85,215.79 207.19,216.11 209.65,211.46 208.31,211.13" fill="#c8d600"/><polygon points="209.38,216.65 210.73,216.97 213.17,212.31 211.83,211.98" fill="#c8d600"/><polygon points="212.92,217.51 214.27,217.83 216.69,213.16 215.35,212.83" fill="#c8d600"/><polygon points="216.47,218.37 217.81,218.69 220.23,214.01 218.88,213.69" fill="#c8d600"/><polygon points="220.02,219.23 221.37,219.56 223.77,214.87 222.42,214.54" fill="#c8d600"/><polygon points="223.57,220.09 224.93,220.42 227.31,215.72 225.96,215.4" fill="#c8d600"/><polygon points="227.13,220.96 228.49,221.28 230.86,216.58 229.51,216.25" fill="#c8d600"/><polygon points="230.7,221.82 232.06,222.15 234.42,217.44 233.07,217.11" fill="#c8d600"/><polygon points="234.28,222.69 235.64,223.02 237.98,218.3 236.63,217.97" fill="#c8d600"/><polygon points="237.86,223.56 239.22,223.89 241.55,219.16 240.2,218.83" fill="#c8d600"/><polygon points="241.45,224.43 242.81,224.76 245.13,220.03 243.77,219.7" fill="#c8d600"/><polygon points="245.04,225.3 246.41,225.63 248.71,220.89 247.35,220.56" fill="#c8d600"/><polygon points="248.64,226.18 250.01,226.51 252.3,221.76 250.93,221.43" fill="#c8d600"/><polygon points="252.24,227.05 253.62,227.38 255.89,222.62 254.53,222.29" fill="#c8d600"/><polygon points="255.86,227.93 257.23,228.26 259.49,223.49 258.12,223.16" fill="#c8d600"/><polygon points="259.48,228.81 260.85,229.14 263.1,224.37 261.73,224.03" fill="#c8d600"/><polygon points="263.1,229.69 264.48,230.02 266.71,225.24 265.34,224.91" fill="#c8d600"/><polygon points="266.73,230.57 268.11,230.9 270.33,226.11 268.96,225.78" fill="#c8d600"/><polygon points="270.37,231.45 271.75,231.79 273.96,226.99 272.58,226.65" fill="#c8d600"/><polygon points="274.01,232.34 275.4,232.67 277.59,227.86 276.21,227.53" fill="#c8d600"/><polygon points="277.66,233.22 279.05,233.56 281.23,228.74 279.85,228.41" fill="#c8d600"/><polygon points="281.32,234.11 282.71,234.45 284.87,229.62 283.49,229.29" fill="#c8d600"/><polygon points="284.98,235 286.38,235.34 288.53,230.51 287.14,230.17" fill="#c8d600"/><polygon points="288.65,235.89 290.05,236.23 292.18,231.39 290.79,231.05" fill="#c8d600"/><polygon points="292.33,236.78 293.73,237.12 295.85,232.27 294.45,231.94" fill="#c8d600"/><polygon points="296.01,237.68 297.41,238.02 299.52,233.16 298.12,232.82" fill="#c8d600"/><polygon points="299.7,238.57 301.1,238.91 303.2,234.05 301.8,233.71" fill="#c8d600"/><polygon points="303.39,239.47 304.8,239.81 306.88,234.94 305.48,234.6" fill="#c8d600"/><polygon points="307.1,240.37 308.51,240.71 310.57,235.83 309.17,235.49" fill="#c8d600"/><polygon points="310.81,241.27 312.22,241.61 314.26,236.72 312.86,236.38" fill="#c8d600"/><polygon points="314.52,242.17 315.93,242.51 317.97,237.62 316.56,237.28" fill="#c8d600"/><polygon points="318.24,243.07 319.66,243.42 321.68,238.51 320.27,238.17" fill="#c8d600"/><polygon points="321.97,243.98 323.39,244.32 325.39,239.41 323.98,239.07" fill="#c8d600"/><polygon points="71.11,197.44 72.38,197.76 75.36,193.27 74.09,192.96" fill="#7a4cfa"/><polygon points="74.46,198.27 75.73,198.58 78.7,194.09 77.43,193.77" fill="#7a4cfa"/><polygon points="77.82,199.1 79.09,199.41 82.04,194.91 80.77,194.59" fill="#7a4cfa"/><polygon points="81.18,199.92 82.45,200.24 85.39,195.73 84.12,195.41" fill="#7a4cfa"/><polygon points="84.54,200.75 85.82,201.07 88.75,196.55 87.48,196.24" fill="#7a4cfa"/><polygon points="87.91,201.58 89.2,201.9 92.11,197.37 90.83,197.06" fill="#7a4cfa"/><polygon points="91.29,202.42 92.58,202.73 95.48,198.2 94.2,197.88" fill="#7a4cfa"/><polygon points="94.67,203.25 95.96,203.57 98.85,199.03 97.57,198.71" fill="#7a4cfa"/><polygon points="98.06,204.08 99.35,204.4 102.23,199.85 100.95,199.54" fill="#7a4cfa"/><polygon points="101.46,204.92 102.75,205.24 105.62,200.68 104.33,200.37" fill="#7a4cfa"/><polygon points="104.86,205.76 106.15,206.08 109.01,201.51 107.72,201.2" fill="#7a4cfa"/><polygon points="108.26,206.6 109.56,206.92 112.41,202.35 111.11,202.03" fill="#7a4cfa"/><polygon points="111.68,207.44 112.97,207.76 115.81,203.18 114.51,202.86" fill="#7a4cfa"/><polygon points="115.09,208.28 116.39,208.6 119.22,204.02 117.92,203.7" fill="#7a4cfa"/><polygon points="118.52,209.12 119.82,209.45 122.63,204.85 121.33,204.53" fill="#7a4cfa"/><polygon points="121.95,209.97 123.25,210.29 126.05,205.69 124.75,205.37" fill="#7a4cfa"/><polygon points="125.38,210.82 126.69,211.14 129.47,206.53 128.17,206.21" fill="#7a4cfa"/><polygon points="128.83,211.66 130.13,211.99 132.91,207.37 131.6,207.05" fill="#7a4cfa"/><polygon points="132.27,212.51 133.58,212.84 136.34,208.21 135.04,207.89" fill="#7a4cfa"/><polygon points="135.73,213.36 137.04,213.69 139.79,209.06 138.48,208.74" fill="#7a4cfa"/><polygon points="139.19,214.22 140.5,214.54 143.23,209.9 141.92,209.58" fill="#7a4cfa"/><polygon points="143.99,216.04 146.71,211.39 146.37,198.46 143.63,203.09" fill="#6232ee" stroke="#6232ee" stroke-width="0.3"/><polygon points="142.67,215.71 143.99,216.04 143.63,203.09 142.3,202.77" fill="#7444ff" stroke="#7444ff" stroke-width="0.3"/><polygon points="142.3,202.77 143.63,203.09 146.37,198.46 145.05,198.14" fill="#9070ff"/><polygon points="147.46,216.89 150.16,212.24 148.33,133.63 145.46,138.2" fill="#6232ee" stroke="#6232ee" stroke-width="0.3"/><polygon points="146.14,216.57 147.46,216.89 145.46,138.2 144.07,137.88" fill="#7444ff" stroke="#7444ff" stroke-width="0.3"/><polygon points="144.07,137.88 145.46,138.2 148.33,133.63 146.94,133.32" fill="#9070ff"/><polygon points="150.94,217.75 153.63,213.09 152,134.46 149.14,139.03" fill="#6232ee" stroke="#6232ee" stroke-width="0.3"/><polygon points="149.61,217.42 150.94,217.75 149.14,139.03 147.74,138.71" fill="#7444ff" stroke="#7444ff" stroke-width="0.3"/><polygon points="147.74,138.71 149.14,139.03 152,134.46 150.6,134.14" fill="#9070ff"/><polygon points="154.42,218.61 157.1,213.94 155.93,149.49 153.11,154.09" fill="#6232ee" stroke="#6232ee" stroke-width="0.3"/><polygon points="153.1,218.28 154.42,218.61 153.11,154.09 151.73,153.77" fill="#7444ff" stroke="#7444ff" stroke-width="0.3"/><polygon points="151.73,153.77 153.11,154.09 155.93,149.49 154.55,149.17" fill="#9070ff"/><polygon points="157.91,219.47 160.58,214.79 160.08,183.31 157.35,187.95" fill="#6232ee" stroke="#6232ee" stroke-width="0.3"/><polygon points="156.58,219.14 157.91,219.47 157.35,187.95 155.99,187.63" fill="#7444ff" stroke="#7444ff" stroke-width="0.3"/><polygon points="155.99,187.63 157.35,187.95 160.08,183.31 158.73,182.98" fill="#9070ff"/><polygon points="161.41,220.33 164.06,215.65 163.86,200.08 161.17,204.75" fill="#6232ee" stroke="#6232ee" stroke-width="0.3"/><polygon points="160.08,220 161.41,220.33 161.17,204.75 159.83,204.42" fill="#7444ff" stroke="#7444ff" stroke-width="0.3"/><polygon points="159.83,204.42 161.17,204.75 163.86,200.08 162.52,199.76" fill="#9070ff"/><polygon points="164.91,221.2 167.55,216.5 167.47,208.76 164.81,213.45" fill="#6232ee" stroke="#6232ee" stroke-width="0.3"/><polygon points="163.58,220.87 164.91,221.2 164.81,213.45 163.47,213.12" fill="#7444ff" stroke="#7444ff" stroke-width="0.3"/><polygon points="163.47,213.12 164.81,213.45 167.47,208.76 166.13,208.44" fill="#9070ff"/><polygon points="168.42,222.06 171.04,217.36 171.02,214.79 168.39,219.49" fill="#6232ee" stroke="#6232ee" stroke-width="0.3"/><polygon points="167.08,221.73 168.42,222.06 168.39,219.49 167.05,219.16" fill="#7444ff" stroke="#7444ff" stroke-width="0.3"/><polygon points="167.05,219.16 168.39,219.49 171.02,214.79 169.69,214.46" fill="#9070ff"/><polygon points="170.59,221.95 171.92,222.28 174.54,217.58 173.21,217.25" fill="#7a4cfa"/><polygon points="174.11,222.82 175.45,223.15 178.05,218.43 176.72,218.11" fill="#7a4cfa"/><polygon points="177.63,223.69 178.97,224.02 181.57,219.3 180.23,218.97" fill="#7a4cfa"/><polygon points="181.16,224.56 182.51,224.89 185.09,220.16 183.75,219.83" fill="#7a4cfa"/><polygon points="184.7,225.43 186.05,225.76 188.61,221.02 187.27,220.69" fill="#7a4cfa"/><polygon points="188.25,226.31 189.59,226.64 192.15,221.89 190.8,221.56" fill="#7a4cfa"/><polygon points="191.8,227.18 193.15,227.51 195.69,222.76 194.34,222.43" fill="#7a4cfa"/><polygon points="195.35,228.06 196.71,228.39 199.23,223.63 197.88,223.3" fill="#7a4cfa"/><polygon points="198.92,228.93 200.27,229.27 202.78,224.5 201.43,224.17" fill="#7a4cfa"/><polygon points="202.48,229.81 203.84,230.15 206.34,225.37 204.99,225.04" fill="#7a4cfa"/><polygon points="206.06,230.69 207.42,231.03 209.9,226.24 208.55,225.91" fill="#7a4cfa"/><polygon points="209.64,231.58 211,231.91 213.47,227.12 212.12,226.78" fill="#7a4cfa"/><polygon points="213.23,232.46 214.59,232.8 217.05,227.99 215.69,227.66" fill="#7a4cfa"/><polygon points="216.82,233.35 218.19,233.68 220.63,228.87 219.27,228.54" fill="#7a4cfa"/><polygon points="220.42,234.23 221.79,234.57 224.22,229.75 222.86,229.42" fill="#7a4cfa"/><polygon points="224.03,235.12 225.4,235.46 227.82,230.63 226.45,230.3" fill="#7a4cfa"/><polygon points="227.64,236.01 229.02,236.35 231.42,231.51 230.05,231.18" fill="#7a4cfa"/><polygon points="231.26,236.9 232.64,237.24 235.03,232.4 233.65,232.06" fill="#7a4cfa"/><polygon points="234.89,237.8 236.26,238.14 238.64,233.28 237.27,232.95" fill="#7a4cfa"/><polygon points="238.52,238.69 239.9,239.03 242.26,234.17 240.88,233.83" fill="#7a4cfa"/><polygon points="242.16,239.59 243.54,239.93 245.89,235.06 244.51,234.72" fill="#7a4cfa"/><polygon points="245.8,240.49 247.19,240.83 249.52,235.95 248.14,235.61" fill="#7a4cfa"/><polygon points="249.45,241.39 250.84,241.73 253.16,236.84 251.78,236.5" fill="#7a4cfa"/><polygon points="253.11,242.29 254.5,242.63 256.81,237.74 255.42,237.4" fill="#7a4cfa"/><polygon points="256.77,243.19 258.17,243.53 260.46,238.63 259.07,238.29" fill="#7a4cfa"/><polygon points="260.44,244.09 261.84,244.44 264.12,239.53 262.73,239.19" fill="#7a4cfa"/><polygon points="264.12,245 265.52,245.35 267.78,240.43 266.39,240.08" fill="#7a4cfa"/><polygon points="267.8,245.91 269.21,246.25 271.45,241.33 270.06,240.98" fill="#7a4cfa"/><polygon points="271.49,246.82 272.9,247.16 275.13,242.23 273.73,241.88" fill="#7a4cfa"/><polygon points="275.19,247.73 276.6,248.08 278.82,243.13 277.41,242.79" fill="#7a4cfa"/><polygon points="278.89,248.64 280.3,248.99 282.51,244.03 281.1,243.69" fill="#7a4cfa"/><polygon points="282.6,249.56 284.02,249.9 286.2,244.94 284.8,244.6" fill="#7a4cfa"/><polygon points="286.32,250.47 287.73,250.82 289.91,245.85 288.5,245.5" fill="#7a4cfa"/><polygon points="290.04,251.39 291.46,251.74 293.62,246.76 292.21,246.41" fill="#7a4cfa"/><polygon points="293.77,252.31 295.19,252.66 297.34,247.67 295.92,247.32" fill="#7a4cfa"/><polygon points="297.51,253.23 298.93,253.58 301.06,248.58 299.65,248.24" fill="#7a4cfa"/><polygon points="301.25,254.15 302.68,254.5 304.79,249.5 303.37,249.15" fill="#7a4cfa"/><polygon points="305,255.07 306.43,255.43 308.53,250.41 307.11,250.06" fill="#7a4cfa"/><polygon points="308.76,256 310.19,256.35 312.27,251.33 310.85,250.98" fill="#7a4cfa"/><polygon points="312.52,256.93 313.95,257.28 316.02,252.25 314.6,251.9" fill="#7a4cfa"/><polygon points="316.29,257.86 317.73,258.21 319.78,253.17 318.35,252.82" fill="#7a4cfa"/><polygon points="62.7,210.11 63.98,210.43 67.03,205.83 65.75,205.52" fill="#2ee8cc"/><polygon points="66.08,210.96 67.37,211.28 70.4,206.67 69.12,206.35" fill="#2ee8cc"/><polygon points="69.47,211.8 70.76,212.13 73.78,207.51 72.49,207.19" fill="#2ee8cc"/><polygon points="72.86,212.65 74.15,212.98 77.16,208.36 75.88,208.04" fill="#2ee8cc"/><polygon points="76.26,213.5 77.55,213.83 80.55,209.2 79.26,208.88" fill="#2ee8cc"/><polygon points="79.66,214.35 80.96,214.68 83.95,210.04 82.66,209.72" fill="#2ee8cc"/><polygon points="83.08,215.21 84.37,215.53 87.35,210.89 86.06,210.57" fill="#2ee8cc"/><polygon points="86.49,216.06 87.79,216.39 90.76,211.74 89.46,211.41" fill="#2ee8cc"/><polygon points="89.92,216.92 91.22,217.24 94.17,212.59 92.87,212.26" fill="#2ee8cc"/><polygon points="93.34,217.78 94.65,218.1 97.59,213.44 96.29,213.11" fill="#2ee8cc"/><polygon points="96.78,218.64 98.09,218.96 101.01,214.29 99.71,213.96" fill="#2ee8cc"/><polygon points="100.22,219.5 101.53,219.82 104.44,215.14 103.14,214.82" fill="#2ee8cc"/><polygon points="103.67,220.36 104.98,220.69 107.88,216 106.57,215.67" fill="#2ee8cc"/><polygon points="107.12,221.22 108.43,221.55 111.32,216.85 110.01,216.53" fill="#2ee8cc"/><polygon points="110.58,222.09 111.89,222.42 114.77,217.71 113.46,217.38" fill="#2ee8cc"/><polygon points="114.04,222.95 115.36,223.28 118.22,218.57 116.91,218.24" fill="#2ee8cc"/><polygon points="117.51,223.82 118.83,224.15 121.68,219.43 120.37,219.1" fill="#2ee8cc"/><polygon points="120.99,224.69 122.31,225.02 125.15,220.29 123.83,219.97" fill="#2ee8cc"/><polygon points="124.47,225.56 125.8,225.89 128.62,221.16 127.3,220.83" fill="#2ee8cc"/><polygon points="127.96,226.43 129.29,226.77 132.1,222.02 130.78,221.69" fill="#2ee8cc"/><polygon points="132.81,228.28 135.61,223.53 135.43,218.38 132.62,223.12" fill="#1fd0b6" stroke="#1fd0b6" stroke-width="0.3"/><polygon points="131.48,227.95 132.81,228.28 132.62,223.12 131.28,222.79" fill="#2eeed2" stroke="#2eeed2" stroke-width="0.3"/><polygon points="131.28,222.79 132.62,223.12 135.43,218.38 134.1,218.05" fill="#70f6e2"/><polygon points="136.31,229.16 139.09,224.4 138.43,203.54 135.6,208.28" fill="#1fd0b6" stroke="#1fd0b6" stroke-width="0.3"/><polygon points="134.98,228.83 136.31,229.16 135.6,208.28 134.25,207.95" fill="#2eeed2" stroke="#2eeed2" stroke-width="0.3"/><polygon points="134.25,207.95 135.6,208.28 138.43,203.54 137.09,203.21" fill="#70f6e2"/><polygon points="139.82,230.04 142.59,225.27 141.19,177.39 138.31,182.11" fill="#1fd0b6" stroke="#1fd0b6" stroke-width="0.3"/><polygon points="138.48,229.7 139.82,230.04 138.31,182.11 136.93,181.78" fill="#2eeed2" stroke="#2eeed2" stroke-width="0.3"/><polygon points="136.93,181.78 138.31,182.11 141.19,177.39 139.82,177.06" fill="#70f6e2"/><polygon points="143.33,230.92 146.09,226.14 143.99,147.26 141.06,151.96" fill="#1fd0b6" stroke="#1fd0b6" stroke-width="0.3"/><polygon points="141.99,230.58 143.33,230.92 141.06,151.96 139.65,151.63" fill="#2eeed2" stroke="#2eeed2" stroke-width="0.3"/><polygon points="139.65,151.63 141.06,151.96 143.99,147.26 142.59,146.94" fill="#70f6e2"/><polygon points="146.85,231.8 149.6,227.01 147.77,150.99 144.86,155.69" fill="#1fd0b6" stroke="#1fd0b6" stroke-width="0.3"/><polygon points="145.51,231.46 146.85,231.8 144.86,155.69 143.45,155.37" fill="#2eeed2" stroke="#2eeed2" stroke-width="0.3"/><polygon points="143.45,155.37 144.86,155.69 147.77,150.99 146.37,150.67" fill="#70f6e2"/><polygon points="150.37,232.68 153.11,227.89 152.14,182.72 149.31,187.47" fill="#1fd0b6" stroke="#1fd0b6" stroke-width="0.3"/><polygon points="149.03,232.35 150.37,232.68 149.31,187.47 147.93,187.14" fill="#2eeed2" stroke="#2eeed2" stroke-width="0.3"/><polygon points="147.93,187.14 149.31,187.47 152.14,182.72 150.76,182.39" fill="#70f6e2"/><polygon points="153.91,233.57 156.63,228.76 156.14,202.55 153.36,207.33" fill="#1fd0b6" stroke="#1fd0b6" stroke-width="0.3"/><polygon points="152.56,233.23 153.91,233.57 153.36,207.33 151.99,207" fill="#2eeed2" stroke="#2eeed2" stroke-width="0.3"/><polygon points="151.99,207 153.36,207.33 156.14,202.55 154.77,202.22" fill="#70f6e2"/><polygon points="157.44,234.45 160.15,229.64 159.9,214.03 157.16,218.83" fill="#1fd0b6" stroke="#1fd0b6" stroke-width="0.3"/><polygon points="156.1,234.11 157.44,234.45 157.16,218.83 155.8,218.49" fill="#2eeed2" stroke="#2eeed2" stroke-width="0.3"/><polygon points="155.8,218.49 157.16,218.83 159.9,214.03 158.54,213.7" fill="#70f6e2"/><polygon points="160.99,235.34 163.68,230.52 163.58,222.76 160.87,227.57" fill="#1fd0b6" stroke="#1fd0b6" stroke-width="0.3"/><polygon points="159.64,235 160.99,235.34 160.87,227.57 159.51,227.23" fill="#2eeed2" stroke="#2eeed2" stroke-width="0.3"/><polygon points="159.51,227.23 160.87,227.57 163.58,222.76 162.23,222.43" fill="#70f6e2"/><polygon points="164.54,236.23 167.22,231.4 167.18,227.53 164.49,232.35" fill="#1fd0b6" stroke="#1fd0b6" stroke-width="0.3"/><polygon points="163.19,235.89 164.54,236.23 164.49,232.35 163.14,232.02" fill="#2eeed2" stroke="#2eeed2" stroke-width="0.3"/><polygon points="163.14,232.02 164.49,232.35 167.18,227.53 165.83,227.2" fill="#70f6e2"/><polygon points="166.74,236.13 168.09,236.47 170.76,231.64 169.41,231.3" fill="#2ee8cc"/><polygon points="170.3,237.03 171.65,237.36 174.31,232.52 172.96,232.19" fill="#2ee8cc"/><polygon points="173.87,237.92 175.23,238.26 177.87,233.41 176.52,233.07" fill="#2ee8cc"/><polygon points="177.44,238.81 178.8,239.15 181.43,234.29 180.08,233.96" fill="#2ee8cc"/><polygon points="181.02,239.71 182.39,240.05 185,235.18 183.64,234.85" fill="#2ee8cc"/><polygon points="184.61,240.61 185.98,240.95 188.58,236.07 187.22,235.73" fill="#2ee8cc"/><polygon points="188.21,241.5 189.57,241.85 192.16,236.96 190.8,236.62" fill="#2ee8cc"/><polygon points="191.81,242.4 193.18,242.75 195.75,237.86 194.39,237.52" fill="#2ee8cc"/><polygon points="195.41,243.31 196.78,243.65 199.35,238.75 197.98,238.41" fill="#2ee8cc"/><polygon points="199.03,244.21 200.4,244.55 202.95,239.65 201.58,239.31" fill="#2ee8cc"/><polygon points="202.65,245.12 204.02,245.46 206.56,240.54 205.18,240.2" fill="#2ee8cc"/><polygon points="206.27,246.02 207.65,246.37 210.17,241.44 208.8,241.1" fill="#2ee8cc"/><polygon points="209.9,246.93 211.29,247.28 213.79,242.34 212.41,242" fill="#2ee8cc"/><polygon points="213.54,247.84 214.93,248.19 217.42,243.25 216.04,242.9" fill="#2ee8cc"/><polygon points="217.19,248.75 218.57,249.1 221.05,244.15 219.67,243.81" fill="#2ee8cc"/><polygon points="220.84,249.67 222.23,250.01 224.69,245.06 223.31,244.71" fill="#2ee8cc"/><polygon points="224.5,250.58 225.89,250.93 228.34,245.96 226.95,245.62" fill="#2ee8cc"/><polygon points="228.16,251.5 229.56,251.85 231.99,246.87 230.6,246.53" fill="#2ee8cc"/><polygon points="231.83,252.42 233.23,252.77 235.65,247.78 234.26,247.44" fill="#2ee8cc"/><polygon points="235.51,253.34 236.91,253.69 239.32,248.69 237.92,248.35" fill="#2ee8cc"/><polygon points="239.2,254.26 240.6,254.61 242.99,249.61 241.59,249.26" fill="#2ee8cc"/><polygon points="242.89,255.18 244.29,255.53 246.67,250.52 245.27,250.18" fill="#2ee8cc"/><polygon points="246.58,256.11 247.99,256.46 250.35,251.44 248.95,251.09" fill="#2ee8cc"/><polygon points="250.29,257.03 251.7,257.39 254.04,252.36 252.64,252.01" fill="#2ee8cc"/><polygon points="254,257.96 255.41,258.31 257.74,253.28 256.34,252.93" fill="#2ee8cc"/><polygon points="257.72,258.89 259.13,259.24 261.45,254.2 260.04,253.85" fill="#2ee8cc"/><polygon points="261.44,259.82 262.86,260.18 265.16,255.12 263.75,254.77" fill="#2ee8cc"/><polygon points="265.17,260.76 266.59,261.11 268.88,256.05 267.47,255.7" fill="#2ee8cc"/><polygon points="268.91,261.69 270.33,262.05 272.6,256.98 271.19,256.62" fill="#2ee8cc"/><polygon points="272.65,262.63 274.08,262.98 276.34,257.9 274.92,257.55" fill="#2ee8cc"/><polygon points="276.4,263.56 277.83,263.92 280.08,258.83 278.65,258.48" fill="#2ee8cc"/><polygon points="280.16,264.5 281.59,264.86 283.82,259.77 282.4,259.41" fill="#2ee8cc"/><polygon points="283.93,265.45 285.36,265.8 287.57,260.7 286.15,260.34" fill="#2ee8cc"/><polygon points="287.7,266.39 289.13,266.75 291.33,261.63 289.9,261.28" fill="#2ee8cc"/><polygon points="291.48,267.33 292.91,267.69 295.1,262.57 293.67,262.22" fill="#2ee8cc"/><polygon points="295.26,268.28 296.7,268.64 298.87,263.51 297.44,263.15" fill="#2ee8cc"/><polygon points="299.05,269.23 300.5,269.59 302.65,264.45 301.21,264.09" fill="#2ee8cc"/><polygon points="302.85,270.18 304.3,270.54 306.44,265.39 305,265.03" fill="#2ee8cc"/><polygon points="306.66,271.13 308.11,271.49 310.23,266.34 308.79,265.98" fill="#2ee8cc"/><polygon points="310.47,272.09 311.92,272.45 314.03,267.28 312.58,266.92" fill="#2ee8cc"/><polygon points="54.08,223.08 55.38,223.41 58.5,218.7 57.2,218.38" fill="#0c960c"/><polygon points="57.49,223.95 58.79,224.28 61.9,219.56 60.61,219.24" fill="#0c960c"/><polygon points="60.92,224.82 62.22,225.15 65.31,220.43 64.02,220.1" fill="#0c960c"/><polygon points="64.34,225.69 65.65,226.02 68.73,221.29 67.43,220.96" fill="#0c960c"/><polygon points="67.78,226.56 69.08,226.9 72.16,222.15 70.85,221.83" fill="#0c960c"/><polygon points="71.22,227.44 72.52,227.77 75.58,223.02 74.28,222.69" fill="#0c960c"/><polygon points="74.66,228.31 75.97,228.64 79.02,223.89 77.71,223.56" fill="#0c960c"/><polygon points="78.11,229.19 79.42,229.52 82.46,224.76 81.15,224.43" fill="#0c960c"/><polygon points="81.57,230.07 82.88,230.4 85.91,225.63 84.6,225.3" fill="#0c960c"/><polygon points="85.03,230.95 86.35,231.28 89.36,226.5 88.05,226.17" fill="#0c960c"/><polygon points="88.5,231.83 89.82,232.16 92.82,227.37 91.5,227.04" fill="#0c960c"/><polygon points="91.98,232.71 93.3,233.05 96.28,228.25 94.97,227.92" fill="#0c960c"/><polygon points="95.46,233.59 96.78,233.93 99.76,229.13 98.44,228.79" fill="#0c960c"/><polygon points="98.95,234.48 100.27,234.82 103.23,230 101.91,229.67" fill="#0c960c"/><polygon points="102.44,235.37 103.77,235.7 106.72,230.88 105.39,230.55" fill="#0c960c"/><polygon points="105.94,236.26 107.27,236.59 110.21,231.76 108.88,231.43" fill="#0c960c"/><polygon points="109.45,237.15 110.78,237.48 113.7,232.65 112.37,232.31" fill="#0c960c"/><polygon points="112.96,238.04 114.29,238.38 117.2,233.53 115.87,233.2" fill="#0c960c"/><polygon points="116.48,238.93 117.81,239.27 120.71,234.42 119.38,234.08" fill="#0c960c"/><polygon points="120,239.83 121.34,240.17 124.22,235.31 122.89,234.97" fill="#0c960c"/><polygon points="123.53,240.72 124.87,241.06 127.74,236.19 126.41,235.86" fill="#0c960c"/><polygon points="127.07,241.62 128.41,241.96 131.27,237.08 129.93,236.75" fill="#0c960c"/><polygon points="130.61,242.52 131.96,242.86 134.8,237.98 133.46,237.64" fill="#0c960c"/><polygon points="134.16,243.42 135.51,243.77 138.34,238.87 137,238.53" fill="#0c960c"/><polygon points="137.72,244.33 139.07,244.67 141.89,239.77 140.54,239.43" fill="#0c960c"/><polygon points="141.28,245.23 142.63,245.57 145.44,240.66 144.09,240.32" fill="#0c960c"/><polygon points="144.85,246.14 146.2,246.48 148.99,241.56 147.64,241.22" fill="#0c960c"/><polygon points="148.42,247.04 149.78,247.39 152.56,242.46 151.2,242.12" fill="#0c960c"/><polygon points="152,247.95 153.36,248.3 156.13,243.36 154.77,243.02" fill="#0c960c"/><polygon points="155.59,248.87 156.95,249.21 159.7,244.27 158.34,243.92" fill="#0c960c"/><polygon points="159.18,249.78 160.55,250.12 163.29,245.17 161.92,244.83" fill="#0c960c"/><polygon points="162.78,250.69 164.15,251.04 166.87,246.08 165.51,245.73" fill="#0c960c"/><polygon points="166.39,251.61 167.76,251.96 170.47,246.99 169.1,246.64" fill="#0c960c"/><polygon points="170,252.53 171.38,252.87 174.07,247.9 172.7,247.55" fill="#0c960c"/><polygon points="173.62,253.44 175,253.79 177.68,248.81 176.31,248.46" fill="#0c960c"/><polygon points="177.25,254.37 178.63,254.72 181.29,249.72 179.92,249.37" fill="#0c960c"/><polygon points="180.88,255.29 182.26,255.64 184.91,250.63 183.54,250.29" fill="#0c960c"/><polygon points="184.52,256.21 185.9,256.56 188.54,251.55 187.16,251.2" fill="#0c960c"/><polygon points="188.16,257.14 189.55,257.49 192.18,252.47 190.79,252.12" fill="#0c960c"/><polygon points="193.2,259.06 195.81,254.03 195.85,250.15 193.23,255.18" fill="#067006" stroke="#067006" stroke-width="0.3"/><polygon points="191.81,258.71 193.2,259.06 193.23,255.18 191.84,254.82" fill="#10c810" stroke="#10c810" stroke-width="0.3"/><polygon points="191.84,254.82 193.23,255.18 195.85,250.15 194.46,249.8" fill="#50de50"/><polygon points="196.86,259.99 199.45,254.95 199.7,236.61 197.07,241.64" fill="#067006" stroke="#067006" stroke-width="0.3"/><polygon points="195.47,259.64 196.86,259.99 197.07,241.64 195.66,241.29" fill="#10c810" stroke="#10c810" stroke-width="0.3"/><polygon points="195.66,241.29 197.07,241.64 199.7,236.61 198.29,236.27" fill="#50de50"/><polygon points="200.52,260.93 203.11,255.88 203.93,204.87 201.25,209.88" fill="#067006" stroke="#067006" stroke-width="0.3"/><polygon points="199.13,260.57 200.52,260.93 201.25,209.88 199.8,209.53" fill="#10c810" stroke="#10c810" stroke-width="0.3"/><polygon points="199.8,209.53 201.25,209.88 203.93,204.87 202.49,204.52" fill="#50de50"/><polygon points="204.2,261.86 206.76,256.8 207.89,197.36 205.21,202.37" fill="#067006" stroke="#067006" stroke-width="0.3"/><polygon points="202.8,261.5 204.2,261.86 205.21,202.37 203.75,202.02" fill="#10c810" stroke="#10c810" stroke-width="0.3"/><polygon points="203.75,202.02 205.21,202.37 207.89,197.36 206.43,197.02" fill="#50de50"/><polygon points="207.88,262.79 210.43,257.73 211.48,209.48 208.83,214.51" fill="#067006" stroke="#067006" stroke-width="0.3"/><polygon points="206.48,262.44 207.88,262.79 208.83,214.51 207.38,214.16" fill="#10c810" stroke="#10c810" stroke-width="0.3"/><polygon points="207.38,214.16 208.83,214.51 211.48,209.48 210.03,209.13" fill="#50de50"/><polygon points="211.56,263.73 214.1,258.66 214.88,226.87 212.28,231.92" fill="#067006" stroke="#067006" stroke-width="0.3"/><polygon points="210.16,263.37 211.56,263.73 212.28,231.92 210.85,231.57" fill="#10c810" stroke="#10c810" stroke-width="0.3"/><polygon points="210.85,231.57 212.28,231.92 214.88,226.87 213.45,226.52" fill="#50de50"/><polygon points="215.25,264.67 217.78,259.59 218.21,243.88 215.65,248.95" fill="#067006" stroke="#067006" stroke-width="0.3"/><polygon points="213.85,264.31 215.25,264.67 215.65,248.95 214.23,248.6" fill="#10c810" stroke="#10c810" stroke-width="0.3"/><polygon points="214.23,248.6 215.65,248.95 218.21,243.88 216.79,243.53" fill="#50de50"/><polygon points="218.95,265.61 221.46,260.52 221.7,252.71 219.17,257.8" fill="#067006" stroke="#067006" stroke-width="0.3"/><polygon points="217.55,265.25 218.95,265.61 219.17,257.8 217.76,257.44" fill="#10c810" stroke="#10c810" stroke-width="0.3"/><polygon points="217.76,257.44 219.17,257.8 221.7,252.71 220.29,252.36" fill="#50de50"/><polygon points="222.66,266.55 225.15,261.45 225.28,257.56 222.78,262.66" fill="#067006" stroke="#067006" stroke-width="0.3"/><polygon points="221.25,266.19 222.66,266.55 222.78,262.66 221.37,262.3" fill="#10c810" stroke="#10c810" stroke-width="0.3"/><polygon points="221.37,262.3 222.78,262.66 225.28,257.56 223.87,257.2" fill="#50de50"/><polygon points="226.37,267.49 228.85,262.38 228.9,261.09 226.41,266.2" fill="#067006" stroke="#067006" stroke-width="0.3"/><polygon points="224.96,267.14 226.37,267.49 226.41,266.2 225,265.84" fill="#10c810" stroke="#10c810" stroke-width="0.3"/><polygon points="225,265.84 226.41,266.2 228.9,261.09 227.49,260.73" fill="#50de50"/><polygon points="228.7,267.43 230.11,267.79 232.58,262.67 231.17,262.32" fill="#0c960c"/><polygon points="232.42,268.38 233.84,268.74 236.29,263.61 234.88,263.25" fill="#0c960c"/><polygon points="236.15,269.33 237.57,269.69 240.01,264.55 238.6,264.19" fill="#0c960c"/><polygon points="239.89,270.28 241.31,270.64 243.74,265.49 242.32,265.13" fill="#0c960c"/><polygon points="243.64,271.23 245.06,271.59 247.47,266.43 246.05,266.08" fill="#0c960c"/><polygon points="247.39,272.18 248.82,272.54 251.21,267.38 249.79,267.02" fill="#0c960c"/><polygon points="251.15,273.13 252.58,273.5 254.96,268.32 253.53,267.96" fill="#0c960c"/><polygon points="254.91,274.09 256.35,274.45 258.71,269.27 257.28,268.91" fill="#0c960c"/><polygon points="258.69,275.05 260.12,275.41 262.47,270.22 261.04,269.86" fill="#0c960c"/><polygon points="262.47,276.01 263.9,276.37 266.24,271.17 264.8,270.81" fill="#0c960c"/><polygon points="266.25,276.97 267.69,277.34 270.01,272.13 268.58,271.76" fill="#0c960c"/><polygon points="270.05,277.93 271.49,278.3 273.79,273.08 272.35,272.72" fill="#0c960c"/><polygon points="273.85,278.9 275.29,279.27 277.58,274.04 276.14,273.67" fill="#0c960c"/><polygon points="277.65,279.86 279.1,280.23 281.37,275 279.93,274.63" fill="#0c960c"/><polygon points="281.47,280.83 282.92,281.2 285.17,275.96 283.73,275.59" fill="#0c960c"/><polygon points="285.29,281.8 286.74,282.17 288.98,276.92 287.53,276.55" fill="#0c960c"/><polygon points="289.12,282.78 290.57,283.15 292.8,277.88 291.35,277.52" fill="#0c960c"/><polygon points="292.95,283.75 294.41,284.12 296.62,278.85 295.17,278.48" fill="#0c960c"/><polygon points="296.79,284.73 298.25,285.1 300.45,279.81 298.99,279.45" fill="#0c960c"/><polygon points="300.64,285.7 302.11,286.08 304.28,280.78 302.83,280.41" fill="#0c960c"/><polygon points="304.5,286.68 305.96,287.06 308.13,281.75 306.67,281.38" fill="#0c960c"/><polygon points="45.25,236.38 46.56,236.71 49.76,231.89 48.45,231.55" fill="#c8d600"/><polygon points="48.7,237.27 50.01,237.61 53.2,232.77 51.89,232.44" fill="#c8d600"/><polygon points="52.15,238.16 53.47,238.5 56.64,233.66 55.33,233.32" fill="#c8d600"/><polygon points="55.62,239.05 56.93,239.39 60.09,234.54 58.78,234.2" fill="#c8d600"/><polygon points="59.08,239.95 60.4,240.29 63.55,235.43 62.24,235.09" fill="#c8d600"/><polygon points="62.56,240.84 63.88,241.18 67.02,236.32 65.7,235.98" fill="#c8d600"/><polygon points="66.04,241.74 67.36,242.08 70.49,237.21 69.17,236.87" fill="#c8d600"/><polygon points="69.52,242.64 70.85,242.98 73.96,238.1 72.64,237.76" fill="#c8d600"/><polygon points="73.02,243.54 74.34,243.88 77.44,238.99 76.12,238.65" fill="#c8d600"/><polygon points="76.51,244.44 77.85,244.78 80.93,239.88 79.61,239.54" fill="#c8d600"/><polygon points="80.02,245.35 81.35,245.69 84.43,240.78 83.1,240.44" fill="#c8d600"/><polygon points="83.53,246.25 84.87,246.6 87.93,241.68 86.6,241.34" fill="#c8d600"/><polygon points="87.05,247.16 88.39,247.5 91.43,242.58 90.1,242.24" fill="#c8d600"/><polygon points="90.57,248.07 91.91,248.41 94.95,243.48 93.61,243.14" fill="#c8d600"/><polygon points="94.1,248.98 95.44,249.32 98.46,244.38 97.13,244.04" fill="#c8d600"/><polygon points="97.64,249.89 98.98,250.24 101.99,245.29 100.65,244.94" fill="#c8d600"/><polygon points="101.18,250.8 102.53,251.15 105.52,246.19 104.18,245.85" fill="#c8d600"/><polygon points="104.73,251.72 106.08,252.07 109.06,247.1 107.71,246.75" fill="#c8d600"/><polygon points="108.28,252.63 109.63,252.98 112.6,248.01 111.26,247.66" fill="#c8d600"/><polygon points="111.84,253.55 113.2,253.9 116.15,248.92 114.8,248.57" fill="#c8d600"/><polygon points="116.8,255.47 119.74,250.48 119.13,237.45 116.16,242.44" fill="#b8c000" stroke="#b8c000" stroke-width="0.3"/><polygon points="115.44,255.12 116.8,255.47 116.16,242.44 114.79,242.09" fill="#d4dc00" stroke="#d4dc00" stroke-width="0.3"/><polygon points="114.79,242.09 116.16,242.44 119.13,237.45 117.76,237.11" fill="#e4ec40"/><polygon points="120.37,256.39 123.3,251.39 121.41,208.79 118.38,213.75" fill="#b8c000" stroke="#b8c000" stroke-width="0.3"/><polygon points="119.02,256.04 120.37,256.39 118.38,213.75 116.98,213.41" fill="#d4dc00" stroke="#d4dc00" stroke-width="0.3"/><polygon points="116.98,213.41 118.38,213.75 121.41,208.79 120.02,208.44" fill="#e4ec40"/><polygon points="123.96,257.32 126.87,252.31 124.98,206.94 121.96,211.91" fill="#b8c000" stroke="#b8c000" stroke-width="0.3"/><polygon points="122.59,256.96 123.96,257.32 121.96,211.91 120.55,211.56" fill="#d4dc00" stroke="#d4dc00" stroke-width="0.3"/><polygon points="120.55,211.56 121.96,211.91 124.98,206.94 123.58,206.59" fill="#e4ec40"/><polygon points="127.54,258.24 130.44,253.22 129.42,226.9 126.45,231.9" fill="#b8c000" stroke="#b8c000" stroke-width="0.3"/><polygon points="126.18,257.89 127.54,258.24 126.45,231.9 125.06,231.55" fill="#d4dc00" stroke="#d4dc00" stroke-width="0.3"/><polygon points="125.06,231.55 126.45,231.9 129.42,226.9 128.03,226.56" fill="#e4ec40"/><polygon points="131.14,259.17 134.02,254.14 133.36,235.82 130.43,240.84" fill="#b8c000" stroke="#b8c000" stroke-width="0.3"/><polygon points="129.77,258.82 131.14,259.17 130.43,240.84 129.04,240.49" fill="#d4dc00" stroke="#d4dc00" stroke-width="0.3"/><polygon points="129.04,240.49 130.43,240.84 133.36,235.82 131.98,235.48" fill="#e4ec40"/><polygon points="134.74,260.1 137.61,255.06 137.17,242.03 134.27,247.05" fill="#b8c000" stroke="#b8c000" stroke-width="0.3"/><polygon points="133.37,259.74 134.74,260.1 134.27,247.05 132.89,246.7" fill="#d4dc00" stroke="#d4dc00" stroke-width="0.3"/><polygon points="132.89,246.7 134.27,247.05 137.17,242.03 135.79,241.68" fill="#e4ec40"/><polygon points="138.34,261.03 141.2,255.98 140.96,248.19 138.08,253.23" fill="#b8c000" stroke="#b8c000" stroke-width="0.3"/><polygon points="136.97,260.67 138.34,261.03 138.08,253.23 136.71,252.88" fill="#d4dc00" stroke="#d4dc00" stroke-width="0.3"/><polygon points="136.71,252.88 138.08,253.23 140.96,248.19 139.59,247.84" fill="#e4ec40"/><polygon points="141.96,261.96 144.8,256.91 144.69,253.02 141.84,258.07" fill="#b8c000" stroke="#b8c000" stroke-width="0.3"/><polygon points="140.58,261.61 141.96,261.96 141.84,258.07 140.46,257.72" fill="#d4dc00" stroke="#d4dc00" stroke-width="0.3"/><polygon points="140.46,257.72 141.84,258.07 144.69,253.02 143.32,252.67" fill="#e4ec40"/><polygon points="144.18,261.89 145.56,262.25 148.39,257.19 147.02,256.83" fill="#c8d600"/><polygon points="147.81,262.83 149.19,263.18 152.01,258.11 150.63,257.76" fill="#c8d600"/><polygon points="151.44,263.77 152.82,264.12 155.63,259.04 154.25,258.69" fill="#c8d600"/><polygon points="155.08,264.7 156.46,265.06 159.25,259.97 157.87,259.62" fill="#c8d600"/><polygon points="158.72,265.64 160.11,266 162.89,260.9 161.5,260.55" fill="#c8d600"/><polygon points="162.37,266.59 163.76,266.94 166.53,261.84 165.14,261.48" fill="#c8d600"/><polygon points="166.03,267.53 167.42,267.89 170.17,262.77 168.79,262.42" fill="#c8d600"/><polygon points="169.7,268.47 171.09,268.83 173.83,263.71 172.44,263.35" fill="#c8d600"/><polygon points="173.37,269.42 174.77,269.78 177.49,264.65 176.09,264.29" fill="#c8d600"/><polygon points="177.05,270.37 178.45,270.73 181.15,265.59 179.76,265.23" fill="#c8d600"/><polygon points="180.73,271.32 182.13,271.68 184.83,266.53 183.43,266.17" fill="#c8d600"/><polygon points="184.42,272.27 185.83,272.63 188.51,267.48 187.11,267.12" fill="#c8d600"/><polygon points="188.12,273.23 189.53,273.59 192.19,268.42 190.79,268.06" fill="#c8d600"/><polygon points="191.83,274.18 193.24,274.55 195.88,269.37 194.48,269.01" fill="#c8d600"/><polygon points="195.54,275.14 196.95,275.5 199.58,270.32 198.18,269.96" fill="#c8d600"/><polygon points="199.26,276.1 200.67,276.46 203.29,271.27 201.88,270.91" fill="#c8d600"/><polygon points="202.98,277.06 204.4,277.42 207,272.22 205.59,271.86" fill="#c8d600"/><polygon points="206.71,278.02 208.13,278.39 210.72,273.17 209.31,272.81" fill="#c8d600"/><polygon points="210.45,278.99 211.87,279.35 214.45,274.13 213.03,273.77" fill="#c8d600"/><polygon points="214.2,279.95 215.62,280.32 218.18,275.09 216.76,274.72" fill="#c8d600"/><polygon points="217.95,280.92 219.38,281.29 221.92,276.05 220.5,275.68" fill="#c8d600"/><polygon points="221.71,281.89 223.14,282.26 225.67,277.01 224.25,276.64" fill="#c8d600"/><polygon points="225.48,282.86 226.91,283.23 229.42,277.97 228,277.6" fill="#c8d600"/><polygon points="229.25,283.83 230.68,284.2 233.19,278.93 231.76,278.57" fill="#c8d600"/><polygon points="233.03,284.81 234.47,285.18 236.95,279.9 235.52,279.53" fill="#c8d600"/><polygon points="236.82,285.79 238.26,286.16 240.73,280.87 239.29,280.5" fill="#c8d600"/><polygon points="240.61,286.76 242.05,287.14 244.51,281.84 243.07,281.47" fill="#c8d600"/><polygon points="244.41,287.74 245.86,288.12 248.3,282.81 246.86,282.44" fill="#c8d600"/><polygon points="248.22,288.73 249.67,289.1 252.09,283.78 250.65,283.41" fill="#c8d600"/><polygon points="252.03,289.71 253.49,290.08 255.89,284.76 254.45,284.39" fill="#c8d600"/><polygon points="255.86,290.7 257.31,291.07 259.7,285.74 258.26,285.36" fill="#c8d600"/><polygon points="259.69,291.68 261.14,292.06 263.52,286.72 262.07,286.34" fill="#c8d600"/><polygon points="263.52,292.67 264.98,293.05 267.34,287.7 265.89,287.32" fill="#c8d600"/><polygon points="267.36,293.66 268.83,294.04 271.17,288.68 269.72,288.3" fill="#c8d600"/><polygon points="271.22,294.66 272.68,295.04 275.01,289.66 273.55,289.29" fill="#c8d600"/><polygon points="275.07,295.65 276.54,296.03 278.86,290.65 277.39,290.27" fill="#c8d600"/><polygon points="278.94,296.65 280.41,297.03 282.71,291.64 281.24,291.26" fill="#c8d600"/><polygon points="282.81,297.65 284.28,298.03 286.57,292.63 285.1,292.25" fill="#c8d600"/><polygon points="286.69,298.65 288.16,299.03 290.43,293.62 288.96,293.24" fill="#c8d600"/><polygon points="290.57,299.65 292.05,300.03 294.3,294.61 292.83,294.23" fill="#c8d600"/><polygon points="294.47,300.65 295.95,301.04 298.18,295.61 296.71,295.23" fill="#c8d600"/><polygon points="298.37,301.66 299.85,302.04 302.07,296.6 300.59,296.22" fill="#c8d600"/><polygon points="36.2,250 37.52,250.35 40.8,245.4 39.48,245.06" fill="#7a4cfa"/><polygon points="39.68,250.91 41.01,251.26 44.28,246.31 42.95,245.96" fill="#7a4cfa"/><polygon points="43.17,251.83 44.5,252.17 47.76,247.21 46.43,246.87" fill="#7a4cfa"/><polygon points="46.67,252.74 48,253.09 51.24,248.12 49.92,247.77" fill="#7a4cfa"/><polygon points="50.17,253.66 51.51,254.01 54.74,249.03 53.41,248.68" fill="#7a4cfa"/><polygon points="53.68,254.58 55.02,254.93 58.23,249.94 56.9,249.59" fill="#7a4cfa"/><polygon points="57.2,255.5 58.54,255.85 61.74,250.85 60.41,250.51" fill="#7a4cfa"/><polygon points="60.72,256.42 62.06,256.77 65.25,251.77 63.92,251.42" fill="#7a4cfa"/><polygon points="64.25,257.35 65.59,257.7 68.77,252.69 67.43,252.34" fill="#7a4cfa"/><polygon points="67.78,258.27 69.13,258.63 72.29,253.6 70.95,253.25" fill="#7a4cfa"/><polygon points="71.32,259.2 72.67,259.55 75.82,254.52 74.48,254.17" fill="#7a4cfa"/><polygon points="74.87,260.13 76.22,260.48 79.36,255.44 78.01,255.09" fill="#7a4cfa"/><polygon points="78.43,261.06 79.78,261.42 82.9,256.37 81.55,256.02" fill="#7a4cfa"/><polygon points="81.99,261.99 83.34,262.35 86.45,257.29 85.1,256.94" fill="#7a4cfa"/><polygon points="85.55,262.93 86.91,263.28 90.01,258.22 88.65,257.87" fill="#7a4cfa"/><polygon points="89.12,263.87 90.48,264.22 93.57,259.15 92.21,258.79" fill="#7a4cfa"/><polygon points="92.7,264.8 94.07,265.16 97.14,260.08 95.78,259.72" fill="#7a4cfa"/><polygon points="96.29,265.74 97.65,266.1 100.71,261.01 99.35,260.65" fill="#7a4cfa"/><polygon points="99.88,266.68 101.25,267.04 104.29,261.94 102.93,261.58" fill="#7a4cfa"/><polygon points="103.48,267.63 104.85,267.98 107.88,262.87 106.51,262.52" fill="#7a4cfa"/><polygon points="108.49,269.58 111.51,264.46 111.37,261.87 108.35,266.99" fill="#6232ee" stroke="#6232ee" stroke-width="0.3"/><polygon points="107.12,269.22 108.49,269.58 108.35,266.99 106.97,266.63" fill="#7444ff" stroke="#7444ff" stroke-width="0.3"/><polygon points="106.97,266.63 108.35,266.99 111.37,261.87 110,261.51" fill="#9070ff"/><polygon points="112.11,270.52 115.11,265.39 113.76,239.03 110.69,244.14" fill="#6232ee" stroke="#6232ee" stroke-width="0.3"/><polygon points="110.73,270.16 112.11,270.52 110.69,244.14 109.29,243.78" fill="#7444ff" stroke="#7444ff" stroke-width="0.3"/><polygon points="109.29,243.78 110.69,244.14 113.76,239.03 112.37,238.68" fill="#9070ff"/><polygon points="115.72,271.47 118.71,266.33 114.44,178.03 111.23,183.09" fill="#6232ee" stroke="#6232ee" stroke-width="0.3"/><polygon points="114.35,271.11 115.72,271.47 111.23,183.09 109.77,182.74" fill="#7444ff" stroke="#7444ff" stroke-width="0.3"/><polygon points="109.77,182.74 111.23,183.09 114.44,178.03 112.98,177.68" fill="#9070ff"/><polygon points="119.35,272.42 122.32,267.28 118.16,176 114.96,181.06" fill="#6232ee" stroke="#6232ee" stroke-width="0.3"/><polygon points="117.97,272.06 119.35,272.42 114.96,181.06 113.49,180.71" fill="#7444ff" stroke="#7444ff" stroke-width="0.3"/><polygon points="113.49,180.71 114.96,181.06 118.16,176 116.69,175.65" fill="#9070ff"/><polygon points="122.98,273.37 125.94,268.22 123.39,208.74 120.28,213.85" fill="#6232ee" stroke="#6232ee" stroke-width="0.3"/><polygon points="121.6,273.01 122.98,273.37 120.28,213.85 118.84,213.49" fill="#7444ff" stroke="#7444ff" stroke-width="0.3"/><polygon points="118.84,213.49 120.28,213.85 123.39,208.74 121.95,208.39" fill="#9070ff"/><polygon points="126.62,274.33 129.57,269.16 127.96,229.18 124.92,234.32" fill="#6232ee" stroke="#6232ee" stroke-width="0.3"/><polygon points="125.24,273.97 126.62,274.33 124.92,234.32 123.49,233.96" fill="#7444ff" stroke="#7444ff" stroke-width="0.3"/><polygon points="123.49,233.96 124.92,234.32 127.96,229.18 126.54,228.83" fill="#9070ff"/><polygon points="130.27,275.28 133.2,270.11 132.41,249.08 129.43,254.24" fill="#6232ee" stroke="#6232ee" stroke-width="0.3"/><polygon points="128.88,274.92 130.27,275.28 129.43,254.24 128.02,253.88" fill="#7444ff" stroke="#7444ff" stroke-width="0.3"/><polygon points="128.02,253.88 129.43,254.24 132.41,249.08 131.01,248.72" fill="#9070ff"/><polygon points="133.92,276.24 136.83,271.06 136.47,260.63 133.53,265.8" fill="#6232ee" stroke="#6232ee" stroke-width="0.3"/><polygon points="132.53,275.88 133.92,276.24 133.53,265.8 132.13,265.44" fill="#7444ff" stroke="#7444ff" stroke-width="0.3"/><polygon points="132.13,265.44 133.53,265.8 136.47,260.63 135.08,260.27" fill="#9070ff"/><polygon points="137.58,277.2 140.48,272.01 140.31,266.81 137.4,272" fill="#6232ee" stroke="#6232ee" stroke-width="0.3"/><polygon points="136.18,276.84 137.58,277.2 137.4,272 136,271.64" fill="#7444ff" stroke="#7444ff" stroke-width="0.3"/><polygon points="136,271.64 137.4,272 140.31,266.81 138.92,266.45" fill="#9070ff"/><polygon points="141.24,278.16 144.13,272.96 144.05,270.37 141.16,275.57" fill="#6232ee" stroke="#6232ee" stroke-width="0.3"/><polygon points="139.85,277.8 141.24,278.16 141.16,275.57 139.76,275.2" fill="#7444ff" stroke="#7444ff" stroke-width="0.3"/><polygon points="139.76,275.2 141.16,275.57 144.05,270.37 142.66,270.01" fill="#9070ff"/><polygon points="143.5,278.11 144.89,278.48 147.77,273.27 146.38,272.9" fill="#7a4cfa"/><polygon points="147.17,279.07 148.57,279.44 151.44,274.22 150.04,273.86" fill="#7a4cfa"/><polygon points="150.86,280.04 152.26,280.41 155.11,275.18 153.71,274.81" fill="#7a4cfa"/><polygon points="154.55,281.01 155.95,281.37 158.79,276.14 157.39,275.77" fill="#7a4cfa"/><polygon points="158.25,281.97 159.66,282.34 162.47,277.1 161.07,276.73" fill="#7a4cfa"/><polygon points="161.95,282.94 163.36,283.31 166.17,278.06 164.76,277.69" fill="#7a4cfa"/><polygon points="165.66,283.92 167.08,284.29 169.87,279.02 168.46,278.66" fill="#7a4cfa"/><polygon points="169.38,284.89 170.8,285.26 173.57,279.99 172.16,279.62" fill="#7a4cfa"/><polygon points="173.11,285.87 174.53,286.24 177.29,280.96 175.87,280.59" fill="#7a4cfa"/><polygon points="176.84,286.84 178.26,287.22 181.01,281.92 179.59,281.56" fill="#7a4cfa"/><polygon points="180.58,287.82 182,288.2 184.73,282.89 183.32,282.53" fill="#7a4cfa"/><polygon points="184.32,288.81 185.75,289.18 188.47,283.87 187.05,283.5" fill="#7a4cfa"/><polygon points="188.08,289.79 189.5,290.16 192.21,284.84 190.79,284.47" fill="#7a4cfa"/><polygon points="191.84,290.77 193.27,291.15 195.95,285.82 194.53,285.45" fill="#7a4cfa"/><polygon points="195.6,291.76 197.04,292.14 199.71,286.8 198.28,286.42" fill="#7a4cfa"/><polygon points="199.38,292.75 200.81,293.13 203.47,287.78 202.04,287.4" fill="#7a4cfa"/><polygon points="203.16,293.74 204.6,294.12 207.24,288.76 205.8,288.38" fill="#7a4cfa"/><polygon points="206.94,294.73 208.39,295.11 211.01,289.74 209.58,289.37" fill="#7a4cfa"/><polygon points="210.74,295.73 212.18,296.1 214.79,290.73 213.36,290.35" fill="#7a4cfa"/><polygon points="214.54,296.72 215.99,297.1 218.58,291.71 217.14,291.34" fill="#7a4cfa"/><polygon points="218.35,297.72 219.8,298.1 222.38,292.7 220.94,292.33" fill="#7a4cfa"/><polygon points="222.16,298.72 223.62,299.1 226.18,293.69 224.74,293.32" fill="#7a4cfa"/><polygon points="225.99,299.72 227.44,300.1 229.99,294.68 228.54,294.31" fill="#7a4cfa"/><polygon points="229.82,300.72 231.27,301.11 233.81,295.68 232.36,295.3" fill="#7a4cfa"/><polygon points="233.65,301.73 235.11,302.11 237.63,296.68 236.18,296.3" fill="#7a4cfa"/><polygon points="237.5,302.74 238.96,303.12 241.46,297.67 240.01,297.29" fill="#7a4cfa"/><polygon points="241.35,303.75 242.81,304.13 245.3,298.67 243.84,298.29" fill="#7a4cfa"/><polygon points="245.21,304.76 246.68,305.14 249.15,299.68 247.69,299.29" fill="#7a4cfa"/><polygon points="249.07,305.77 250.54,306.15 253,300.68 251.54,300.3" fill="#7a4cfa"/><polygon points="252.95,306.78 254.42,307.17 256.86,301.68 255.39,301.3" fill="#7a4cfa"/><polygon points="256.83,307.8 258.3,308.19 260.73,302.69 259.26,302.31" fill="#7a4cfa"/><polygon points="260.71,308.82 262.19,309.21 264.6,303.7 263.13,303.32" fill="#7a4cfa"/><polygon points="264.61,309.84 266.09,310.23 268.48,304.71 267.01,304.33" fill="#7a4cfa"/><polygon points="268.51,310.86 270,311.25 272.37,305.73 270.89,305.34" fill="#7a4cfa"/><polygon points="272.42,311.89 273.91,312.27 276.27,306.74 274.79,306.35" fill="#7a4cfa"/><polygon points="276.34,312.91 277.83,313.3 280.17,307.76 278.69,307.37" fill="#7a4cfa"/><polygon points="280.26,313.94 281.75,314.33 284.08,308.78 282.59,308.39" fill="#7a4cfa"/><polygon points="284.19,314.97 285.69,315.36 288,309.8 286.51,309.41" fill="#7a4cfa"/><polygon points="288.13,316 289.63,316.39 291.92,310.82 290.43,310.43" fill="#7a4cfa"/><polygon points="292.08,317.04 293.58,317.43 295.86,311.84 294.36,311.45" fill="#7a4cfa"/></g>
<g font-family="Liberation Sans, sans-serif"><text transform="translate(13.8,139.4) scale(0.88,1)" font-size="10" text-anchor="end" fill="#111" stroke="#111" stroke-width="0.25">40</text>
<text transform="translate(17.8,171.2) scale(0.88,1)" font-size="10" text-anchor="end" fill="#111" stroke="#111" stroke-width="0.25">30</text>
<text transform="translate(21.1,201.4) scale(0.88,1)" font-size="10" text-anchor="end" fill="#111" stroke="#111" stroke-width="0.25">20</text>
<text transform="translate(24.1,231) scale(0.88,1)" font-size="10" text-anchor="end" fill="#111" stroke="#111" stroke-width="0.25">10</text>
<text transform="translate(27.1,258.6) scale(0.88,1)" font-size="10" text-anchor="end" fill="#111" stroke="#111" stroke-width="0.25">0</text>
<text x="1.5" y="115.3" font-size="9.2" fill="#111" stroke="#111" stroke-width="0.2" textLength="44" lengthAdjust="spacingAndGlyphs"><tspan font-style="italic">Volume</tspan> (%)</text>
<text x="125.5" y="338.5" font-size="9.2" fill="#111" stroke="#111" stroke-width="0.2" textLength="36.3" lengthAdjust="spacingAndGlyphs"><tspan font-style="italic">Size</tspan> (nm)</text>
<text transform="translate(38.92,260.83) rotate(-90)" font-size="8.7" text-anchor="end" fill="#111" stroke="#111" stroke-width="0.2">0.4</text>
<text transform="translate(52.81,264.51) rotate(-90)" font-size="8.7" text-anchor="end" fill="#111" stroke="#111" stroke-width="0.2">0.7</text>
<text transform="translate(66.81,268.22) rotate(-90)" font-size="8.7" text-anchor="end" fill="#111" stroke="#111" stroke-width="0.2">1.3</text>
<text transform="translate(80.92,271.95) rotate(-90)" font-size="8.7" text-anchor="end" fill="#111" stroke="#111" stroke-width="0.2">2.3</text>
<text transform="translate(95.12,275.72) rotate(-90)" font-size="8.7" text-anchor="end" fill="#111" stroke="#111" stroke-width="0.2">4.2</text>
<text transform="translate(109.43,279.51) rotate(-90)" font-size="8.7" text-anchor="end" fill="#111" stroke="#111" stroke-width="0.2">7.5</text>
<text transform="translate(123.84,283.32) rotate(-90)" font-size="8.7" text-anchor="end" fill="#111" stroke="#111" stroke-width="0.2">13.5</text>
<text transform="translate(138.36,287.17) rotate(-90)" font-size="8.7" text-anchor="end" fill="#111" stroke="#111" stroke-width="0.2">24.4</text>
<text transform="translate(152.98,291.04) rotate(-90)" font-size="8.7" text-anchor="end" fill="#111" stroke="#111" stroke-width="0.2">43.8</text>
<text transform="translate(167.71,294.94) rotate(-90)" font-size="8.7" text-anchor="end" fill="#111" stroke="#111" stroke-width="0.2">78.8</text>
<text transform="translate(182.56,298.88) rotate(-90)" font-size="8.7" text-anchor="end" fill="#111" stroke="#111" stroke-width="0.2">142</text>
<text transform="translate(197.51,302.84) rotate(-90)" font-size="8.7" text-anchor="end" fill="#111" stroke="#111" stroke-width="0.2">255</text>
<text transform="translate(212.58,306.82) rotate(-90)" font-size="8.7" text-anchor="end" fill="#111" stroke="#111" stroke-width="0.2">459</text>
<text transform="translate(227.75,310.84) rotate(-90)" font-size="8.7" text-anchor="end" fill="#111" stroke="#111" stroke-width="0.2">825</text>
<text transform="translate(243.05,314.89) rotate(-90)" font-size="8.7" text-anchor="end" fill="#111" stroke="#111" stroke-width="0.2">1480</text>
<text transform="translate(258.45,318.97) rotate(-90)" font-size="8.7" text-anchor="end" fill="#111" stroke="#111" stroke-width="0.2">2670</text>
<text transform="translate(273.98,323.08) rotate(-90)" font-size="8.7" text-anchor="end" fill="#111" stroke="#111" stroke-width="0.2">4800</text>
<text transform="translate(289.62,327.22) rotate(-90)" font-size="8.7" text-anchor="end" fill="#111" stroke="#111" stroke-width="0.2">8630</text>
<text transform="translate(299.63,319.64) scale(0.92,1)" font-size="9.4" fill="#8a6cf2" stroke="#8a6cf2" stroke-width="0.2">UV</text>
<text transform="translate(305.95,304.37) scale(0.92,1)" font-size="9.4" fill="#c4c400" stroke="#c4c400" stroke-width="0.2">Vis</text>
<text transform="translate(312.41,289.48) scale(0.92,1)" font-size="9.4" fill="#1aa01a" stroke="#1aa01a" stroke-width="0.2">UV + CO<tspan font-size="6.5" dy="2.6">2</tspan></text>
<text transform="translate(318.01,274.98) scale(0.92,1)" font-size="9.4" fill="#3ad8c8" stroke="#3ad8c8" stroke-width="0.2">CO<tspan font-size="6.5" dy="2.6">2</tspan></text>
<text transform="translate(323.67,260.84) scale(0.92,1)" font-size="9.4" fill="#8a6cf2" stroke="#8a6cf2" stroke-width="0.2">UV</text>
<text transform="translate(329.89,247.04) scale(0.92,1)" font-size="9.4" fill="#c4c400" stroke="#c4c400" stroke-width="0.2">Vis</text>
<text transform="translate(335.87,233.59) scale(0.92,1)" font-size="9.4" fill="#1aa01a" stroke="#1aa01a" stroke-width="0.2">UV + CO<tspan font-size="6.5" dy="2.6">2</tspan></text>
<text transform="translate(341.12,220.45) scale(0.92,1)" font-size="9.4" fill="#8a6cf2" stroke="#8a6cf2" stroke-width="0.2">UV</text>
<text transform="translate(347.03,207.64) scale(0.92,1)" font-size="9.4" fill="#d8204c" stroke="#d8204c" stroke-width="0.2">Sonication</text>
<text transform="translate(351.83,195.12) scale(0.92,1)" font-size="9.4" fill="#1aa01a" stroke="#1aa01a" stroke-width="0.2">UV + CO<tspan font-size="6.5" dy="2.6">2</tspan></text>
<text transform="translate(356.81,182.89) scale(0.92,1)" font-size="9.4" fill="#8a6cf2" stroke="#8a6cf2" stroke-width="0.2">UV</text>
<text transform="translate(361.67,170.95) scale(0.92,1)" font-size="9.4" fill="#888c8c" stroke="#888c8c" stroke-width="0.2">Start</text>
<line x1="35.28" y1="206.29" x2="125.3" y2="75.5" stroke="#111" stroke-width="1.5"/>
<polygon points="32.1,210.9 42,205.33 35.28,206.29 33.76,199.66" fill="#111"/>
<text transform="translate(46.5,178.6) rotate(-54.78) skewX(-6)" font-size="10" font-weight="bold" font-style="italic" fill="#111" stroke="#111" stroke-width="0.3" textLength="109" lengthAdjust="spacing">SEQUENCE ORDER</text>
<polygon points="340.9,134 354.2,144.4 336.1,186.6 321.4,176.3" fill="#fff" stroke="#ec2d66" stroke-width="1"/>
<text transform="matrix(0.42,-0.91,0.82,0.57,338.15,160.32)" font-size="8.6" font-weight="bold" font-style="italic" fill="#ec2d66" stroke="#ec2d66" stroke-width="0.25" text-anchor="middle" dy="3">1<tspan font-size="5" dy="-3">st</tspan><tspan dy="3"> cycle</tspan></text>
<polygon points="318.3,182.8 332.5,194.4 320.4,228.9 304.9,217.7" fill="#fff" stroke="#ec2d66" stroke-width="1"/>
<text transform="matrix(0.36,-0.93,0.81,0.59,319.02,205.95)" font-size="8.6" font-weight="bold" font-style="italic" fill="#ec2d66" stroke="#ec2d66" stroke-width="0.25" text-anchor="middle" dy="3">2<tspan font-size="5" dy="-3">nd</tspan><tspan dy="3"> cycle</tspan></text>
<polygon points="298.7,223.4 316,236.1 294.8,286.7 274.1,273.3" fill="#fff" stroke="#ec2d66" stroke-width="1"/>
<text transform="matrix(0.44,-0.9,0.84,0.54,295.9,254.88)" font-size="8.6" font-weight="bold" font-style="italic" fill="#ec2d66" stroke="#ec2d66" stroke-width="0.25" text-anchor="middle" dy="3">3<tspan font-size="5" dy="-3">rd</tspan><tspan dy="3"> cycle</tspan></text>
<polyline points="337.8,205.3 337.9,191.3 355.9,148.6 356.5,162.6" fill="none" stroke="#f80a2e" stroke-width="2" stroke-linejoin="miter"/>
<polyline points="320.8,245.2 321.6,229 334.5,198.4 335.2,214" fill="none" stroke="#f80a2e" stroke-width="2" stroke-linejoin="miter"/>
<polyline points="296.6,302.7 296.6,288.5 317.9,238.8 318.3,253" fill="none" stroke="#f80a2e" stroke-width="2" stroke-linejoin="miter"/></g>
</svg>
</body></html>
